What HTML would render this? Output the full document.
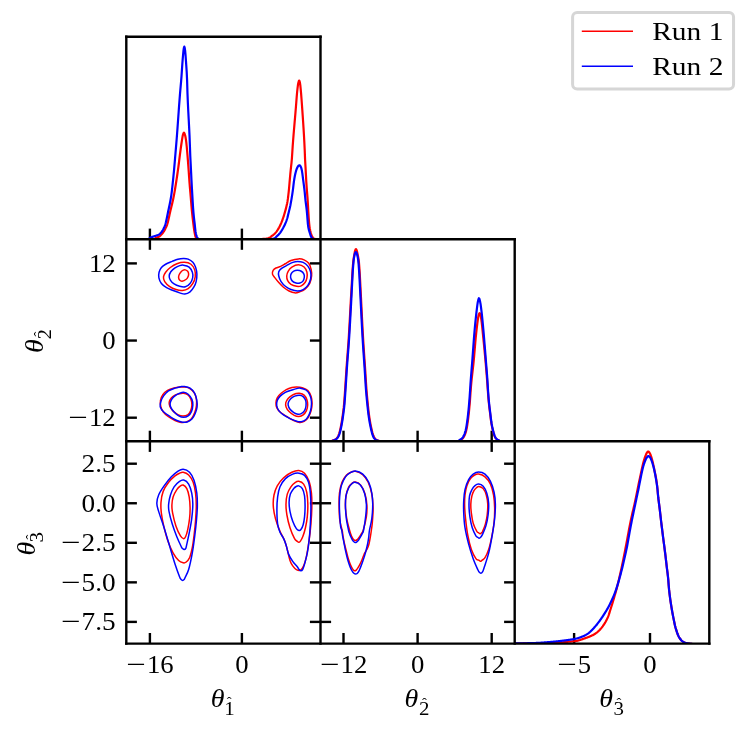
<!DOCTYPE html>
<html lang="en"><head><meta charset="utf-8"><title>Triangle plot: Run 1 vs Run 2</title>
<style>html,body{margin:0;padding:0;background:#fff}svg{display:block}text{font-family:"Liberation Serif","DejaVu Serif",serif;fill:#000}</style></head><body>
<svg width="746" height="742" viewBox="0 0 746 742">
<rect width="746" height="742" fill="#fff"/>
<defs>
<clipPath id="c00"><rect x="126.3" y="36.8" width="194.2" height="202.4"/></clipPath>
<clipPath id="c10"><rect x="126.3" y="239.2" width="194.2" height="202.1"/></clipPath>
<clipPath id="c11"><rect x="320.5" y="239.2" width="194.2" height="202.1"/></clipPath>
<clipPath id="c20"><rect x="126.3" y="441.3" width="194.2" height="202.3"/></clipPath>
<clipPath id="c21"><rect x="320.5" y="441.3" width="194.2" height="202.3"/></clipPath>
<clipPath id="c22"><rect x="514.7" y="441.3" width="194.6" height="202.3"/></clipPath>
</defs>
<g id="ticks" stroke="#000" stroke-width="2.4" stroke-linecap="butt">
<line x1="149.9" y1="239.2" x2="149.9" y2="228.6"/>
<line x1="241.9" y1="239.2" x2="241.9" y2="228.6"/>
<line x1="149.9" y1="441.3" x2="149.9" y2="430.7"/>
<line x1="149.9" y1="239.2" x2="149.9" y2="249.8"/>
<line x1="241.9" y1="441.3" x2="241.9" y2="430.7"/>
<line x1="241.9" y1="239.2" x2="241.9" y2="249.8"/>
<line x1="126.3" y1="263.4" x2="136.9" y2="263.4"/>
<line x1="320.5" y1="263.4" x2="309.9" y2="263.4"/>
<line x1="126.3" y1="340.55" x2="136.9" y2="340.55"/>
<line x1="320.5" y1="340.55" x2="309.9" y2="340.55"/>
<line x1="126.3" y1="417.7" x2="136.9" y2="417.7"/>
<line x1="320.5" y1="417.7" x2="309.9" y2="417.7"/>
<line x1="343.5" y1="441.3" x2="343.5" y2="430.7"/>
<line x1="417.6" y1="441.3" x2="417.6" y2="430.7"/>
<line x1="491.7" y1="441.3" x2="491.7" y2="430.7"/>
<line x1="149.9" y1="643.6" x2="149.9" y2="633"/>
<line x1="149.9" y1="441.3" x2="149.9" y2="451.9"/>
<line x1="241.9" y1="643.6" x2="241.9" y2="633"/>
<line x1="241.9" y1="441.3" x2="241.9" y2="451.9"/>
<line x1="126.3" y1="463.7" x2="136.9" y2="463.7"/>
<line x1="320.5" y1="463.7" x2="309.9" y2="463.7"/>
<line x1="126.3" y1="503.25" x2="136.9" y2="503.25"/>
<line x1="320.5" y1="503.25" x2="309.9" y2="503.25"/>
<line x1="126.3" y1="542.8" x2="136.9" y2="542.8"/>
<line x1="320.5" y1="542.8" x2="309.9" y2="542.8"/>
<line x1="126.3" y1="582.35" x2="136.9" y2="582.35"/>
<line x1="320.5" y1="582.35" x2="309.9" y2="582.35"/>
<line x1="126.3" y1="621.9" x2="136.9" y2="621.9"/>
<line x1="320.5" y1="621.9" x2="309.9" y2="621.9"/>
<line x1="343.5" y1="643.6" x2="343.5" y2="633"/>
<line x1="343.5" y1="441.3" x2="343.5" y2="451.9"/>
<line x1="417.6" y1="643.6" x2="417.6" y2="633"/>
<line x1="417.6" y1="441.3" x2="417.6" y2="451.9"/>
<line x1="491.7" y1="643.6" x2="491.7" y2="633"/>
<line x1="491.7" y1="441.3" x2="491.7" y2="451.9"/>
<line x1="320.5" y1="463.7" x2="331.1" y2="463.7"/>
<line x1="514.7" y1="463.7" x2="504.1" y2="463.7"/>
<line x1="320.5" y1="503.25" x2="331.1" y2="503.25"/>
<line x1="514.7" y1="503.25" x2="504.1" y2="503.25"/>
<line x1="320.5" y1="542.8" x2="331.1" y2="542.8"/>
<line x1="514.7" y1="542.8" x2="504.1" y2="542.8"/>
<line x1="320.5" y1="582.35" x2="331.1" y2="582.35"/>
<line x1="514.7" y1="582.35" x2="504.1" y2="582.35"/>
<line x1="320.5" y1="621.9" x2="331.1" y2="621.9"/>
<line x1="514.7" y1="621.9" x2="504.1" y2="621.9"/>
<line x1="574.1" y1="643.6" x2="574.1" y2="633"/>
<line x1="650" y1="643.6" x2="650" y2="633"/>
</g>
<g id="curves">
<path d="M126.3 239.7 L126.7 239.7 L127.1 239.7 L127.5 239.7 L127.9 239.7 L128.3 239.7 L128.7 239.7 L129.1 239.7 L129.5 239.7 L129.9 239.7 L130.3 239.7 L130.7 239.7 L131.1 239.7 L131.5 239.7 L131.9 239.7 L132.3 239.7 L132.7 239.7 L133.1 239.7 L133.5 239.7 L133.9 239.7 L134.3 239.7 L134.7 239.7 L135.1 239.7 L135.5 239.7 L135.9 239.7 L136.3 239.7 L136.7 239.7 L137.1 239.7 L137.5 239.7 L137.9 239.7 L138.3 239.7 L138.7 239.7 L139.1 239.7 L139.5 239.7 L139.9 239.7 L140.3 239.7 L140.7 239.7 L141.1 239.7 L141.5 239.7 L141.9 239.7 L142.3 239.7 L142.7 239.7 L143.1 239.7 L143.5 239.7 L143.9 239.7 L144.3 239.7 L144.7 239.7 L145.1 239.7 L145.5 239.7 L145.9 239.7 L146.3 239.7 L146.7 239.7 L147.1 239.7 L147.5 239.7 L147.9 239.7 L148.3 239.7 L148.7 239.7 L149.1 239.7 L149.5 239.7 L149.9 239.7 L150.3 239.7 L150.7 239.7 L151.1 239.7 L151.5 239.7 L151.9 239.7 L152.3 239.7 L152.7 239.7 L153.1 239.7 L153.5 239.7 L153.9 239.58 L154.3 239.2 L154.7 238.78 L155.1 238.49 L155.5 238.22 L155.9 237.97 L156.3 237.75 L156.7 237.55 L157.1 237.38 L157.5 237.25 L157.9 237.13 L158.3 237.01 L158.7 236.85 L159.1 236.63 L159.5 236.33 L159.9 235.98 L160.3 235.59 L160.7 235.2 L161.1 234.8 L161.5 234.38 L161.9 233.94 L162.3 233.47 L162.7 232.99 L163.1 232.48 L163.5 231.95 L163.9 231.38 L164.3 230.75 L164.7 230.01 L165.1 229.17 L165.5 228.31 L165.9 227.49 L166.3 226.69 L166.7 225.81 L167.1 224.77 L167.5 223.48 L167.9 221.99 L168.3 220.34 L168.7 218.56 L169.1 216.72 L169.5 214.85 L169.9 213.01 L170.3 211.23 L170.7 209.54 L171.1 207.89 L171.5 206.27 L171.9 204.63 L172.3 202.97 L172.7 201.26 L173.1 199.47 L173.5 197.59 L173.9 195.58 L174.3 193.41 L174.7 191.12 L175.1 188.73 L175.5 186.26 L175.9 183.76 L176.3 181.23 L176.7 178.65 L177.1 175.99 L177.5 173.26 L177.9 170.46 L178.3 167.56 L178.7 164.49 L179.1 161.29 L179.5 158.07 L179.9 154.95 L180.3 151.95 L180.7 148.96 L181.1 146.02 L181.5 143.22 L181.9 140.61 L182.3 138.14 L182.7 135.83 L183.1 134.3 L183.5 133.19 L183.9 132.7 L184.3 133.11 L184.7 134.05 L185.1 135.24 L185.5 137.03 L185.9 139.36 L186.3 142.31 L186.7 146.25 L187.1 150.75 L187.5 155.36 L187.9 160.31 L188.3 165.6 L188.7 171.09 L189.1 176.94 L189.5 182.5 L189.9 187.4 L190.3 191.99 L190.7 196.6 L191.1 201.47 L191.5 206.36 L191.9 210.8 L192.3 214.71 L192.7 218.32 L193.1 221.7 L193.5 224.9 L193.9 228.02 L194.3 230.85 L194.7 233.04 L195.1 235.01 L195.5 236.62 L195.9 237.6 L196.3 238.15 L196.7 238.63 L197.1 239.03 L197.5 239.35 L197.9 239.57 L198.3 239.69 L198.7 239.7 L199.1 239.7 L199.5 239.7 L199.9 239.7 L200.3 239.7 L200.7 239.7 L201.1 239.7 L201.5 239.7 L201.9 239.7 L202.3 239.7 L202.7 239.7 L203.1 239.7 L203.5 239.7 L203.9 239.7 L204.3 239.7 L204.7 239.7 L205.1 239.7 L205.5 239.7 L205.9 239.7 L206.3 239.7 L206.7 239.7 L207.1 239.7 L207.5 239.7 L207.9 239.7 L208.3 239.7 L208.7 239.7 L209.1 239.7 L209.5 239.7 L209.9 239.7 L210.3 239.7 L210.7 239.7 L211.1 239.7 L211.5 239.7 L211.9 239.7 L212.3 239.7 L212.7 239.7 L213.1 239.7 L213.5 239.7 L213.9 239.7 L214.3 239.7 L214.7 239.7 L215.1 239.7 L215.5 239.7 L215.9 239.7 L216.3 239.7 L216.7 239.7 L217.1 239.7 L217.5 239.7 L217.9 239.7 L218.3 239.7 L218.7 239.7 L219.1 239.7 L219.5 239.7 L219.9 239.7 L220.3 239.7 L220.7 239.7 L221.1 239.7 L221.5 239.7 L221.9 239.7 L222.3 239.7 L222.7 239.7 L223.1 239.7 L223.5 239.7 L223.9 239.7 L224.3 239.7 L224.7 239.7 L225.1 239.7 L225.5 239.7 L225.9 239.7 L226.3 239.7 L226.7 239.7 L227.1 239.7 L227.5 239.7 L227.9 239.7 L228.3 239.7 L228.7 239.7 L229.1 239.7 L229.5 239.7 L229.9 239.7 L230.3 239.7 L230.7 239.7 L231.1 239.7 L231.5 239.7 L231.9 239.7 L232.3 239.7 L232.7 239.7 L233.1 239.7 L233.5 239.7 L233.9 239.7 L234.3 239.7 L234.7 239.7 L235.1 239.7 L235.5 239.7 L235.9 239.7 L236.3 239.7 L236.7 239.7 L237.1 239.7 L237.5 239.7 L237.9 239.7 L238.3 239.7 L238.7 239.7 L239.1 239.7 L239.5 239.7 L239.9 239.7 L240.3 239.7 L240.7 239.7 L241.1 239.7 L241.5 239.7 L241.9 239.7 L242.3 239.7 L242.7 239.7 L243.1 239.7 L243.5 239.7 L243.9 239.7 L244.3 239.7 L244.7 239.7 L245.1 239.7 L245.5 239.7 L245.9 239.7 L246.3 239.7 L246.7 239.7 L247.1 239.7 L247.5 239.7 L247.9 239.7 L248.3 239.7 L248.7 239.7 L249.1 239.7 L249.5 239.7 L249.9 239.7 L250.3 239.7 L250.7 239.69 L251.1 239.66 L251.5 239.64 L251.9 239.6 L252.3 239.56 L252.7 239.52 L253.1 239.48 L253.5 239.43 L253.9 239.38 L254.3 239.33 L254.7 239.28 L255.1 239.24 L255.5 239.2 L255.9 239.16 L256.3 239.13 L256.7 239.11 L257.1 239.1 L257.5 239.09 L257.9 239.08 L258.3 239.07 L258.7 239.06 L259.1 239.06 L259.5 239.05 L259.9 239.04 L260.3 239.04 L260.7 239.03 L261.1 239.02 L261.5 239.01 L261.9 239 L262.3 238.99 L262.7 238.97 L263.1 238.96 L263.5 238.94 L263.9 238.91 L264.3 238.89 L264.7 238.86 L265.1 238.83 L265.5 238.79 L265.9 238.75 L266.3 238.7 L266.7 238.65 L267.1 238.6 L267.5 238.51 L267.9 238.38 L268.3 238.21 L268.7 238.02 L269.1 237.81 L269.5 237.6 L269.9 237.37 L270.3 237.11 L270.7 236.83 L271.1 236.53 L271.5 236.23 L271.9 235.92 L272.3 235.62 L272.7 235.32 L273.1 235.02 L273.5 234.7 L273.9 234.37 L274.3 234.02 L274.7 233.65 L275.1 233.25 L275.5 232.82 L275.9 232.35 L276.3 231.84 L276.7 231.29 L277.1 230.71 L277.5 230.11 L277.9 229.48 L278.3 228.83 L278.7 228.16 L279.1 227.46 L279.5 226.71 L279.9 225.92 L280.3 225.09 L280.7 224.23 L281.1 223.33 L281.5 222.38 L281.9 221.36 L282.3 220.28 L282.7 219.15 L283.1 217.99 L283.5 216.8 L283.9 215.56 L284.3 214.27 L284.7 212.94 L285.1 211.55 L285.5 210.12 L285.9 208.63 L286.3 207.04 L286.7 205.33 L287.1 203.51 L287.5 201.39 L287.9 198.69 L288.3 195.4 L288.7 191.93 L289.1 187.76 L289.5 183.12 L289.9 178.55 L290.3 174.12 L290.7 170.03 L291.1 166.46 L291.5 162.84 L291.9 158.5 L292.3 152.31 L292.7 146.1 L293.1 140.72 L293.5 135.63 L293.9 130.77 L294.3 126.05 L294.7 121.42 L295.1 116.79 L295.5 112.1 L295.9 107.26 L296.3 102.08 L296.7 96.89 L297.1 92.25 L297.5 88.52 L297.9 85.28 L298.3 83 L298.7 81.46 L299.1 80.55 L299.5 80.96 L299.9 82.54 L300.3 85.11 L300.7 89.23 L301.1 93.68 L301.5 98.74 L301.9 104.23 L302.3 109.93 L302.7 115.65 L303.1 121.51 L303.5 127.67 L303.9 134.3 L304.3 141.55 L304.7 149.8 L305.1 160 L305.5 166.74 L305.9 174.17 L306.3 181.84 L306.7 187.61 L307.1 192.82 L307.5 197.6 L307.9 204.06 L308.3 211.38 L308.7 217.51 L309.1 222.83 L309.5 226.6 L309.9 229.05 L310.3 230.98 L310.7 232.52 L311.1 233.81 L311.5 234.97 L311.9 235.99 L312.3 236.82 L312.7 237.4 L313.1 237.8 L313.5 238.14 L313.9 238.41 L314.3 238.65 L314.7 238.86 L315.1 239.05 L315.5 239.24 L315.9 239.42 L316.3 239.58 L316.7 239.68 L317.1 239.7 L317.5 239.7 L317.9 239.7 L318.3 239.7 L318.7 239.7 L319.1 239.7 L319.5 239.7 L319.9 239.7 L320.3 239.7" fill="none" stroke="#ff0000" stroke-width="2.2" stroke-linejoin="round" clip-path="url(#c00)"/>
<path d="M126.3 239.7 L126.7 239.7 L127.1 239.7 L127.5 239.7 L127.9 239.7 L128.3 239.7 L128.7 239.7 L129.1 239.7 L129.5 239.7 L129.9 239.7 L130.3 239.7 L130.7 239.7 L131.1 239.7 L131.5 239.7 L131.9 239.7 L132.3 239.7 L132.7 239.7 L133.1 239.7 L133.5 239.7 L133.9 239.7 L134.3 239.7 L134.7 239.7 L135.1 239.7 L135.5 239.7 L135.9 239.7 L136.3 239.7 L136.7 239.7 L137.1 239.7 L137.5 239.7 L137.9 239.7 L138.3 239.7 L138.7 239.7 L139.1 239.7 L139.5 239.7 L139.9 239.7 L140.3 239.7 L140.7 239.7 L141.1 239.7 L141.5 239.7 L141.9 239.7 L142.3 239.7 L142.7 239.7 L143.1 239.7 L143.5 239.7 L143.9 239.7 L144.3 239.7 L144.7 239.7 L145.1 239.7 L145.5 239.7 L145.9 239.7 L146.3 239.7 L146.7 239.7 L147.1 239.7 L147.5 239.7 L147.9 239.7 L148.3 239.7 L148.7 239.46 L149.1 238.83 L149.5 238.36 L149.9 237.95 L150.3 237.68 L150.7 237.48 L151.1 237.31 L151.5 237.15 L151.9 237 L152.3 236.85 L152.7 236.72 L153.1 236.58 L153.5 236.45 L153.9 236.32 L154.3 236.19 L154.7 236.07 L155.1 235.95 L155.5 235.83 L155.9 235.7 L156.3 235.57 L156.7 235.44 L157.1 235.29 L157.5 235.16 L157.9 235.01 L158.3 234.84 L158.7 234.65 L159.1 234.42 L159.5 234.13 L159.9 233.79 L160.3 233.42 L160.7 233.01 L161.1 232.58 L161.5 232.07 L161.9 231.51 L162.3 230.91 L162.7 230.26 L163.1 229.56 L163.5 228.8 L163.9 227.99 L164.3 227.15 L164.7 226.21 L165.1 225.1 L165.5 223.76 L165.9 222.2 L166.3 220.47 L166.7 218.62 L167.1 216.68 L167.5 214.71 L167.9 212.73 L168.3 210.8 L168.7 208.94 L169.1 207.1 L169.5 205.24 L169.9 203.31 L170.3 201.26 L170.7 199.04 L171.1 196.6 L171.5 193.78 L171.9 190.56 L172.3 187.06 L172.7 183.42 L173.1 179.68 L173.5 175.71 L173.9 171.53 L174.3 167.2 L174.7 162.57 L175.1 157.78 L175.5 153.03 L175.9 148.37 L176.3 143.67 L176.7 138.74 L177.1 133.53 L177.5 128.1 L177.9 122.53 L178.3 116.89 L178.7 111.25 L179.1 105.7 L179.5 100.31 L179.9 95.15 L180.3 90.36 L180.7 85.91 L181.1 81.39 L181.5 76.36 L181.9 70.4 L182.3 64.33 L182.7 59.11 L183.1 54.55 L183.5 50.34 L183.9 47.75 L184.3 46.6 L184.7 47.75 L185.1 50.31 L185.5 54.66 L185.9 60.14 L186.3 65.81 L186.7 71.86 L187.1 80.39 L187.5 93.9 L187.9 103.57 L188.3 111.78 L188.7 119.28 L189.1 126.85 L189.5 135.25 L189.9 145.65 L190.3 156.48 L190.7 164.41 L191.1 172.41 L191.5 180.57 L191.9 188 L192.3 194.92 L192.7 201.7 L193.1 208.13 L193.5 213.08 L193.9 217.05 L194.3 220.56 L194.7 224 L195.1 227.86 L195.5 231.41 L195.9 233.44 L196.3 235.07 L196.7 236.36 L197.1 237.29 L197.5 237.86 L197.9 238.34 L198.3 238.77 L198.7 239.14 L199.1 239.42 L199.5 239.61 L199.9 239.7 L200.3 239.7 L200.7 239.7 L201.1 239.7 L201.5 239.7 L201.9 239.7 L202.3 239.7 L202.7 239.7 L203.1 239.7 L203.5 239.7 L203.9 239.7 L204.3 239.7 L204.7 239.7 L205.1 239.7 L205.5 239.7 L205.9 239.7 L206.3 239.7 L206.7 239.7 L207.1 239.7 L207.5 239.7 L207.9 239.7 L208.3 239.7 L208.7 239.7 L209.1 239.7 L209.5 239.7 L209.9 239.7 L210.3 239.7 L210.7 239.7 L211.1 239.7 L211.5 239.7 L211.9 239.7 L212.3 239.7 L212.7 239.7 L213.1 239.7 L213.5 239.7 L213.9 239.7 L214.3 239.7 L214.7 239.7 L215.1 239.7 L215.5 239.7 L215.9 239.7 L216.3 239.7 L216.7 239.7 L217.1 239.7 L217.5 239.7 L217.9 239.7 L218.3 239.7 L218.7 239.7 L219.1 239.7 L219.5 239.7 L219.9 239.7 L220.3 239.7 L220.7 239.7 L221.1 239.7 L221.5 239.7 L221.9 239.7 L222.3 239.7 L222.7 239.7 L223.1 239.7 L223.5 239.7 L223.9 239.7 L224.3 239.7 L224.7 239.7 L225.1 239.7 L225.5 239.7 L225.9 239.7 L226.3 239.7 L226.7 239.7 L227.1 239.7 L227.5 239.7 L227.9 239.7 L228.3 239.7 L228.7 239.7 L229.1 239.7 L229.5 239.7 L229.9 239.7 L230.3 239.7 L230.7 239.7 L231.1 239.7 L231.5 239.7 L231.9 239.7 L232.3 239.7 L232.7 239.7 L233.1 239.7 L233.5 239.7 L233.9 239.7 L234.3 239.7 L234.7 239.7 L235.1 239.7 L235.5 239.7 L235.9 239.7 L236.3 239.7 L236.7 239.7 L237.1 239.7 L237.5 239.7 L237.9 239.7 L238.3 239.7 L238.7 239.7 L239.1 239.7 L239.5 239.7 L239.9 239.7 L240.3 239.7 L240.7 239.7 L241.1 239.7 L241.5 239.7 L241.9 239.7 L242.3 239.7 L242.7 239.7 L243.1 239.7 L243.5 239.7 L243.9 239.7 L244.3 239.7 L244.7 239.7 L245.1 239.7 L245.5 239.7 L245.9 239.7 L246.3 239.7 L246.7 239.7 L247.1 239.7 L247.5 239.7 L247.9 239.7 L248.3 239.7 L248.7 239.7 L249.1 239.7 L249.5 239.7 L249.9 239.7 L250.3 239.7 L250.7 239.7 L251.1 239.7 L251.5 239.7 L251.9 239.7 L252.3 239.7 L252.7 239.7 L253.1 239.7 L253.5 239.7 L253.9 239.7 L254.3 239.7 L254.7 239.7 L255.1 239.7 L255.5 239.7 L255.9 239.7 L256.3 239.7 L256.7 239.7 L257.1 239.7 L257.5 239.7 L257.9 239.7 L258.3 239.7 L258.7 239.7 L259.1 239.7 L259.5 239.7 L259.9 239.7 L260.3 239.7 L260.7 239.7 L261.1 239.7 L261.5 239.7 L261.9 239.7 L262.3 239.7 L262.7 239.68 L263.1 239.66 L263.5 239.62 L263.9 239.58 L264.3 239.54 L264.7 239.49 L265.1 239.44 L265.5 239.38 L265.9 239.33 L266.3 239.27 L266.7 239.22 L267.1 239.18 L267.5 239.14 L267.9 239.11 L268.3 239.08 L268.7 239.06 L269.1 239.04 L269.5 239.03 L269.9 239.01 L270.3 239 L270.7 238.98 L271.1 238.96 L271.5 238.94 L271.9 238.91 L272.3 238.87 L272.7 238.81 L273.1 238.73 L273.5 238.63 L273.9 238.51 L274.3 238.37 L274.7 238.21 L275.1 237.94 L275.5 237.59 L275.9 237.19 L276.3 236.79 L276.7 236.42 L277.1 236.04 L277.5 235.67 L277.9 235.28 L278.3 234.88 L278.7 234.47 L279.1 234.03 L279.5 233.57 L279.9 233.09 L280.3 232.56 L280.7 232 L281.1 231.4 L281.5 230.77 L281.9 230.12 L282.3 229.44 L282.7 228.75 L283.1 228.05 L283.5 227.31 L283.9 226.55 L284.3 225.75 L284.7 224.91 L285.1 224.03 L285.5 223.1 L285.9 222.12 L286.3 221.07 L286.7 219.94 L287.1 218.72 L287.5 217.36 L287.9 215.8 L288.3 214.12 L288.7 212.43 L289.1 210.79 L289.5 209.21 L289.9 207.55 L290.3 205.72 L290.7 203.62 L291.1 201.37 L291.5 199.07 L291.9 196.65 L292.3 194.12 L292.7 191.43 L293.1 188.42 L293.5 184.9 L293.9 181.56 L294.3 179.01 L294.7 176.78 L295.1 174.76 L295.5 172.96 L295.9 171.4 L296.3 170.1 L296.7 168.99 L297.1 168 L297.5 167.17 L297.9 166.53 L298.3 166.04 L298.7 165.6 L299.1 165.31 L299.5 165.27 L299.9 165.53 L300.3 165.99 L300.7 166.56 L301.1 167.51 L301.5 168.88 L301.9 170.57 L302.3 173.07 L302.7 176.2 L303.1 179.44 L303.5 182.42 L303.9 185.41 L304.3 188.59 L304.7 192.2 L305.1 196.42 L305.5 200.4 L305.9 203.6 L306.3 206.52 L306.7 209.8 L307.1 214.26 L307.5 219.46 L307.9 224.16 L308.3 227.17 L308.7 229.11 L309.1 230.64 L309.5 231.96 L309.9 233.25 L310.3 234.55 L310.7 235.74 L311.1 236.73 L311.5 237.4 L311.9 237.83 L312.3 238.18 L312.7 238.47 L313.1 238.7 L313.5 238.9 L313.9 239.08 L314.3 239.26 L314.7 239.42 L315.1 239.56 L315.5 239.65 L315.9 239.7 L316.3 239.7 L316.7 239.7 L317.1 239.7 L317.5 239.7 L317.9 239.7 L318.3 239.7 L318.7 239.7 L319.1 239.7 L319.5 239.7 L319.9 239.7 L320.3 239.7" fill="none" stroke="#0000ff" stroke-width="2.2" stroke-linejoin="round" clip-path="url(#c00)"/>
<path d="M320.5 441.8 L320.9 441.8 L321.3 441.8 L321.7 441.8 L322.1 441.8 L322.5 441.8 L322.9 441.8 L323.3 441.8 L323.7 441.8 L324.1 441.8 L324.5 441.8 L324.9 441.8 L325.3 441.8 L325.7 441.8 L326.1 441.8 L326.5 441.8 L326.9 441.8 L327.3 441.8 L327.7 441.8 L328.1 441.78 L328.5 441.74 L328.9 441.68 L329.3 441.61 L329.7 441.52 L330.1 441.42 L330.5 441.31 L330.9 441.19 L331.3 441.06 L331.7 440.92 L332.1 440.78 L332.5 440.63 L332.9 440.49 L333.3 440.34 L333.7 440.18 L334.1 440.01 L334.5 439.82 L334.9 439.61 L335.3 439.37 L335.7 439.11 L336.1 438.81 L336.5 438.48 L336.9 438.1 L337.3 437.6 L337.7 436.99 L338.1 436.27 L338.5 435.44 L338.9 434.5 L339.3 433.26 L339.7 431.79 L340.1 430.2 L340.5 428.47 L340.9 426.55 L341.3 424.45 L341.7 422.2 L342.1 419.72 L342.5 416.99 L342.9 414.1 L343.3 411.18 L343.7 407.96 L344.1 403.9 L344.5 398.67 L344.9 392.99 L345.3 386.96 L345.7 380.66 L346.1 374.34 L346.5 368.3 L346.9 362.75 L347.3 357.54 L347.7 352.42 L348.1 347.16 L348.5 341.5 L348.9 335.25 L349.3 328.43 L349.7 321.23 L350.1 313.83 L350.5 306.41 L350.9 299.14 L351.3 292.22 L351.7 285.62 L352.1 278.19 L352.5 271 L352.9 265.48 L353.3 261.06 L353.7 258.11 L354.1 255.89 L354.5 253.59 L354.9 251.36 L355.3 250.13 L355.7 249.28 L356.1 249.17 L356.5 249.89 L356.9 251 L357.3 252.68 L357.7 254.8 L358.1 256.71 L358.5 258.84 L358.9 261.96 L359.3 266.74 L359.7 272.56 L360.1 279.98 L360.5 287.86 L360.9 295.87 L361.3 303.86 L361.7 311.88 L362.1 319.81 L362.5 327.5 L362.9 334.83 L363.3 341.65 L363.7 347.91 L364.1 353.78 L364.5 359.51 L364.9 365.31 L365.3 371.42 L365.7 377.92 L366.1 384.3 L366.5 390 L366.9 394.75 L367.3 399.07 L367.7 403.18 L368.1 407.05 L368.5 410.77 L368.9 414.1 L369.3 416.97 L369.7 419.56 L370.1 421.92 L370.5 424.1 L370.9 426.13 L371.3 428.02 L371.7 429.78 L372.1 431.45 L372.5 433.03 L372.9 434.42 L373.3 435.53 L373.7 436.51 L374.1 437.37 L374.5 438.04 L374.9 438.52 L375.3 438.92 L375.7 439.28 L376.1 439.59 L376.5 439.85 L376.9 440.07 L377.3 440.26 L377.7 440.42 L378.1 440.57 L378.5 440.72 L378.9 440.86 L379.3 441 L379.7 441.13 L380.1 441.25 L380.5 441.36 L380.9 441.47 L381.3 441.56 L381.7 441.63 L382.1 441.7 L382.5 441.75 L382.9 441.78 L383.3 441.8 L383.7 441.8 L384.1 441.8 L384.5 441.8 L384.9 441.8 L385.3 441.8 L385.7 441.8 L386.1 441.8 L386.5 441.8 L386.9 441.8 L387.3 441.8 L387.7 441.8 L388.1 441.8 L388.5 441.8 L388.9 441.8 L389.3 441.8 L389.7 441.8 L390.1 441.8 L390.5 441.8 L390.9 441.8 L391.3 441.8 L391.7 441.8 L392.1 441.8 L392.5 441.8 L392.9 441.8 L393.3 441.8 L393.7 441.8 L394.1 441.8 L394.5 441.8 L394.9 441.8 L395.3 441.8 L395.7 441.8 L396.1 441.8 L396.5 441.8 L396.9 441.8 L397.3 441.8 L397.7 441.8 L398.1 441.8 L398.5 441.8 L398.9 441.8 L399.3 441.8 L399.7 441.8 L400.1 441.8 L400.5 441.8 L400.9 441.8 L401.3 441.8 L401.7 441.8 L402.1 441.8 L402.5 441.8 L402.9 441.8 L403.3 441.8 L403.7 441.8 L404.1 441.8 L404.5 441.8 L404.9 441.8 L405.3 441.8 L405.7 441.8 L406.1 441.8 L406.5 441.8 L406.9 441.8 L407.3 441.8 L407.7 441.8 L408.1 441.8 L408.5 441.8 L408.9 441.8 L409.3 441.8 L409.7 441.8 L410.1 441.8 L410.5 441.8 L410.9 441.8 L411.3 441.8 L411.7 441.8 L412.1 441.8 L412.5 441.8 L412.9 441.8 L413.3 441.8 L413.7 441.8 L414.1 441.8 L414.5 441.8 L414.9 441.8 L415.3 441.8 L415.7 441.8 L416.1 441.8 L416.5 441.8 L416.9 441.8 L417.3 441.8 L417.7 441.8 L418.1 441.8 L418.5 441.8 L418.9 441.8 L419.3 441.8 L419.7 441.8 L420.1 441.8 L420.5 441.8 L420.9 441.8 L421.3 441.8 L421.7 441.8 L422.1 441.8 L422.5 441.8 L422.9 441.8 L423.3 441.8 L423.7 441.8 L424.1 441.8 L424.5 441.8 L424.9 441.8 L425.3 441.8 L425.7 441.8 L426.1 441.8 L426.5 441.8 L426.9 441.8 L427.3 441.8 L427.7 441.8 L428.1 441.8 L428.5 441.8 L428.9 441.8 L429.3 441.8 L429.7 441.8 L430.1 441.8 L430.5 441.8 L430.9 441.8 L431.3 441.8 L431.7 441.8 L432.1 441.8 L432.5 441.8 L432.9 441.8 L433.3 441.8 L433.7 441.8 L434.1 441.8 L434.5 441.8 L434.9 441.8 L435.3 441.8 L435.7 441.8 L436.1 441.8 L436.5 441.8 L436.9 441.8 L437.3 441.8 L437.7 441.8 L438.1 441.8 L438.5 441.8 L438.9 441.8 L439.3 441.8 L439.7 441.8 L440.1 441.8 L440.5 441.8 L440.9 441.8 L441.3 441.8 L441.7 441.8 L442.1 441.8 L442.5 441.8 L442.9 441.8 L443.3 441.8 L443.7 441.8 L444.1 441.8 L444.5 441.8 L444.9 441.8 L445.3 441.8 L445.7 441.8 L446.1 441.8 L446.5 441.8 L446.9 441.8 L447.3 441.8 L447.7 441.8 L448.1 441.8 L448.5 441.8 L448.9 441.8 L449.3 441.8 L449.7 441.8 L450.1 441.8 L450.5 441.8 L450.9 441.8 L451.3 441.8 L451.7 441.8 L452.1 441.8 L452.5 441.8 L452.9 441.8 L453.3 441.8 L453.7 441.8 L454.1 441.8 L454.5 441.8 L454.9 441.8 L455.3 441.8 L455.7 441.8 L456.1 441.8 L456.5 441.8 L456.9 441.8 L457.3 441.8 L457.7 441.8 L458.1 441.79 L458.5 441.63 L458.9 441.33 L459.3 440.94 L459.7 440.55 L460.1 440.23 L460.5 439.96 L460.9 439.71 L461.3 439.47 L461.7 439.21 L462.1 438.92 L462.5 438.59 L462.9 438.19 L463.3 437.68 L463.7 437.04 L464.1 436.3 L464.5 435.48 L464.9 434.59 L465.3 433.56 L465.7 432.36 L466.1 430.97 L466.5 429.34 L466.9 427.26 L467.3 424.84 L467.7 422.2 L468.1 419.24 L468.5 415.88 L468.9 412.26 L469.3 408.26 L469.7 403.79 L470.1 398.72 L470.5 392.86 L470.9 387.46 L471.3 382.9 L471.7 378.92 L472.1 375.31 L472.5 371.88 L472.9 368.47 L473.3 364.89 L473.7 360.98 L474.1 356.61 L474.5 351.93 L474.9 347.14 L475.3 342.44 L475.7 338.01 L476.1 334.05 L476.5 330.35 L476.9 326.83 L477.3 323.58 L477.7 320.67 L478.1 318.05 L478.5 315.79 L478.9 314.36 L479.3 313.31 L479.7 313.04 L480.1 313.77 L480.5 315 L480.9 316.8 L481.3 319.32 L481.7 322.29 L482.1 325.92 L482.5 329.93 L482.9 334.01 L483.3 337.95 L483.7 341.93 L484.1 345.96 L484.5 350.08 L484.9 354.3 L485.3 358.65 L485.7 363.14 L486.1 367.8 L486.5 372.63 L486.9 377.66 L487.3 382.9 L487.7 388.59 L488.1 394.19 L488.5 399.18 L488.9 403.32 L489.3 406.98 L489.7 410.21 L490.1 413.3 L490.5 416.64 L490.9 420.03 L491.3 422.82 L491.7 425.11 L492.1 427.13 L492.5 428.94 L492.9 430.61 L493.3 432.16 L493.7 433.57 L494.1 434.78 L494.5 435.81 L494.9 436.75 L495.3 437.56 L495.7 438.18 L496.1 438.62 L496.5 438.99 L496.9 439.3 L497.3 439.58 L497.7 439.83 L498.1 440.06 L498.5 440.3 L498.9 440.55 L499.3 440.82 L499.7 441.09 L500.1 441.33 L500.5 441.54 L500.9 441.7 L501.3 441.79 L501.7 441.8 L502.1 441.8 L502.5 441.8 L502.9 441.8 L503.3 441.8 L503.7 441.8 L504.1 441.8 L504.5 441.8 L504.9 441.8 L505.3 441.8 L505.7 441.8 L506.1 441.8 L506.5 441.8 L506.9 441.8 L507.3 441.8 L507.7 441.8 L508.1 441.8 L508.5 441.8 L508.9 441.8 L509.3 441.8 L509.7 441.8 L510.1 441.8 L510.5 441.8 L510.9 441.8 L511.3 441.8 L511.7 441.8 L512.1 441.8 L512.5 441.8 L512.9 441.8 L513.3 441.8 L513.7 441.8 L514.1 441.8 L514.5 441.8" fill="none" stroke="#ff0000" stroke-width="2.2" stroke-linejoin="round" clip-path="url(#c11)"/>
<path d="M320.5 441.8 L320.9 441.8 L321.3 441.8 L321.7 441.8 L322.1 441.8 L322.5 441.8 L322.9 441.8 L323.3 441.8 L323.7 441.8 L324.1 441.8 L324.5 441.8 L324.9 441.8 L325.3 441.8 L325.7 441.8 L326.1 441.8 L326.5 441.8 L326.9 441.8 L327.3 441.8 L327.7 441.8 L328.1 441.8 L328.5 441.78 L328.9 441.75 L329.3 441.69 L329.7 441.62 L330.1 441.54 L330.5 441.43 L330.9 441.32 L331.3 441.2 L331.7 441.07 L332.1 440.93 L332.5 440.79 L332.9 440.64 L333.3 440.49 L333.7 440.34 L334.1 440.18 L334.5 440.01 L334.9 439.82 L335.3 439.61 L335.7 439.37 L336.1 439.11 L336.5 438.81 L336.9 438.48 L337.3 438.1 L337.7 437.6 L338.1 436.99 L338.5 436.27 L338.9 435.44 L339.3 434.5 L339.7 433.26 L340.1 431.79 L340.5 430.2 L340.9 428.47 L341.3 426.55 L341.7 424.45 L342.1 422.2 L342.5 419.72 L342.9 416.99 L343.3 414.1 L343.7 411.18 L344.1 407.96 L344.5 403.9 L344.9 398.67 L345.3 392.99 L345.7 386.96 L346.1 380.66 L346.5 374.34 L346.9 368.3 L347.3 362.75 L347.7 357.54 L348.1 352.42 L348.5 347.16 L348.9 341.5 L349.3 335.31 L349.7 328.7 L350.1 321.76 L350.5 314.56 L350.9 307.15 L351.3 299.61 L351.7 291.95 L352.1 283.9 L352.5 276.1 L352.9 269.55 L353.3 264.24 L353.7 260.2 L354.1 257.38 L354.5 255.24 L354.9 253.61 L355.3 252.63 L355.7 252.09 L356.1 252.09 L356.5 252.63 L356.9 253.63 L357.3 255.21 L357.7 257.07 L358.1 259.48 L358.5 263.02 L358.9 268.12 L359.3 274.27 L359.7 281.95 L360.1 289.89 L360.5 297.86 L360.9 305.87 L361.3 313.88 L361.7 321.76 L362.1 329.38 L362.5 336.59 L362.9 343.26 L363.3 349.4 L363.7 355.22 L364.1 360.94 L364.5 366.79 L364.9 373.03 L365.3 379.55 L365.7 385.81 L366.1 391.26 L366.5 395.84 L366.9 400.12 L367.3 404.17 L367.7 408 L368.1 411.65 L368.5 414.85 L368.9 417.64 L369.3 420.17 L369.7 422.48 L370.1 424.62 L370.5 426.61 L370.9 428.47 L371.3 430.2 L371.7 431.86 L372.1 433.4 L372.5 434.72 L372.9 435.78 L373.3 436.74 L373.7 437.55 L374.1 438.18 L374.5 438.63 L374.9 439.02 L375.3 439.36 L375.7 439.66 L376.1 439.91 L376.5 440.12 L376.9 440.3 L377.3 440.46 L377.7 440.61 L378.1 440.76 L378.5 440.9 L378.9 441.03 L379.3 441.16 L379.7 441.28 L380.1 441.39 L380.5 441.49 L380.9 441.58 L381.3 441.65 L381.7 441.71 L382.1 441.76 L382.5 441.79 L382.9 441.8 L383.3 441.8 L383.7 441.8 L384.1 441.8 L384.5 441.8 L384.9 441.8 L385.3 441.8 L385.7 441.8 L386.1 441.8 L386.5 441.8 L386.9 441.8 L387.3 441.8 L387.7 441.8 L388.1 441.8 L388.5 441.8 L388.9 441.8 L389.3 441.8 L389.7 441.8 L390.1 441.8 L390.5 441.8 L390.9 441.8 L391.3 441.8 L391.7 441.8 L392.1 441.8 L392.5 441.8 L392.9 441.8 L393.3 441.8 L393.7 441.8 L394.1 441.8 L394.5 441.8 L394.9 441.8 L395.3 441.8 L395.7 441.8 L396.1 441.8 L396.5 441.8 L396.9 441.8 L397.3 441.8 L397.7 441.8 L398.1 441.8 L398.5 441.8 L398.9 441.8 L399.3 441.8 L399.7 441.8 L400.1 441.8 L400.5 441.8 L400.9 441.8 L401.3 441.8 L401.7 441.8 L402.1 441.8 L402.5 441.8 L402.9 441.8 L403.3 441.8 L403.7 441.8 L404.1 441.8 L404.5 441.8 L404.9 441.8 L405.3 441.8 L405.7 441.8 L406.1 441.8 L406.5 441.8 L406.9 441.8 L407.3 441.8 L407.7 441.8 L408.1 441.8 L408.5 441.8 L408.9 441.8 L409.3 441.8 L409.7 441.8 L410.1 441.8 L410.5 441.8 L410.9 441.8 L411.3 441.8 L411.7 441.8 L412.1 441.8 L412.5 441.8 L412.9 441.8 L413.3 441.8 L413.7 441.8 L414.1 441.8 L414.5 441.8 L414.9 441.8 L415.3 441.8 L415.7 441.8 L416.1 441.8 L416.5 441.8 L416.9 441.8 L417.3 441.8 L417.7 441.8 L418.1 441.8 L418.5 441.8 L418.9 441.8 L419.3 441.8 L419.7 441.8 L420.1 441.8 L420.5 441.8 L420.9 441.8 L421.3 441.8 L421.7 441.8 L422.1 441.8 L422.5 441.8 L422.9 441.8 L423.3 441.8 L423.7 441.8 L424.1 441.8 L424.5 441.8 L424.9 441.8 L425.3 441.8 L425.7 441.8 L426.1 441.8 L426.5 441.8 L426.9 441.8 L427.3 441.8 L427.7 441.8 L428.1 441.8 L428.5 441.8 L428.9 441.8 L429.3 441.8 L429.7 441.8 L430.1 441.8 L430.5 441.8 L430.9 441.8 L431.3 441.8 L431.7 441.8 L432.1 441.8 L432.5 441.8 L432.9 441.8 L433.3 441.8 L433.7 441.8 L434.1 441.8 L434.5 441.8 L434.9 441.8 L435.3 441.8 L435.7 441.8 L436.1 441.8 L436.5 441.8 L436.9 441.8 L437.3 441.8 L437.7 441.8 L438.1 441.8 L438.5 441.8 L438.9 441.8 L439.3 441.8 L439.7 441.8 L440.1 441.8 L440.5 441.8 L440.9 441.8 L441.3 441.8 L441.7 441.8 L442.1 441.8 L442.5 441.8 L442.9 441.8 L443.3 441.8 L443.7 441.8 L444.1 441.8 L444.5 441.8 L444.9 441.8 L445.3 441.8 L445.7 441.8 L446.1 441.8 L446.5 441.8 L446.9 441.8 L447.3 441.8 L447.7 441.8 L448.1 441.8 L448.5 441.8 L448.9 441.8 L449.3 441.8 L449.7 441.8 L450.1 441.8 L450.5 441.8 L450.9 441.8 L451.3 441.8 L451.7 441.8 L452.1 441.8 L452.5 441.8 L452.9 441.8 L453.3 441.8 L453.7 441.8 L454.1 441.8 L454.5 441.8 L454.9 441.8 L455.3 441.8 L455.7 441.8 L456.1 441.8 L456.5 441.8 L456.9 441.8 L457.3 441.75 L457.7 441.56 L458.1 441.26 L458.5 440.92 L458.9 440.57 L459.3 440.27 L459.7 440.01 L460.1 439.77 L460.5 439.52 L460.9 439.27 L461.3 438.99 L461.7 438.67 L462.1 438.3 L462.5 437.84 L462.9 437.28 L463.3 436.62 L463.7 435.87 L464.1 435.05 L464.5 434.11 L464.9 432.99 L465.3 431.69 L465.7 430.2 L466.1 428.35 L466.5 426.09 L466.9 423.54 L467.3 420.78 L467.7 417.6 L468.1 414.1 L468.5 410.31 L468.9 406.1 L469.3 401.32 L469.7 395.97 L470.1 390 L470.5 383.64 L470.9 378.11 L471.3 373.06 L471.7 368.2 L472.1 363.27 L472.5 358.07 L472.9 352.65 L473.3 347.14 L473.7 341.7 L474.1 336.44 L474.5 331.5 L474.9 327.02 L475.3 322.9 L475.7 319.04 L476.1 315.41 L476.5 312 L476.9 308.6 L477.3 305.32 L477.7 302.6 L478.1 300.73 L478.5 299.14 L478.9 298.24 L479.3 298.57 L479.7 299.9 L480.1 301.6 L480.5 303.69 L480.9 306.42 L481.3 309.55 L481.7 312.84 L482.1 316.5 L482.5 320.55 L482.9 324.83 L483.3 329.2 L483.7 333.71 L484.1 338.4 L484.5 343.23 L484.9 348.16 L485.3 353.17 L485.7 358.21 L486.1 363.25 L486.5 368.16 L486.9 373.13 L487.3 378.47 L487.7 384.59 L488.1 391.51 L488.5 396.86 L488.9 401.32 L489.3 405.2 L489.7 408.64 L490.1 411.75 L490.5 414.92 L490.9 418.37 L491.3 421.54 L491.7 424 L492.1 426.15 L492.5 428.06 L492.9 429.79 L493.3 431.4 L493.7 432.89 L494.1 434.21 L494.5 435.31 L494.9 436.29 L495.3 437.17 L495.7 437.89 L496.1 438.41 L496.5 438.81 L496.9 439.15 L497.3 439.44 L497.7 439.7 L498.1 439.94 L498.5 440.18 L498.9 440.43 L499.3 440.71 L499.7 440.99 L500.1 441.27 L500.5 441.51 L500.9 441.69 L501.3 441.79 L501.7 441.8 L502.1 441.8 L502.5 441.8 L502.9 441.8 L503.3 441.8 L503.7 441.8 L504.1 441.8 L504.5 441.8 L504.9 441.8 L505.3 441.8 L505.7 441.8 L506.1 441.8 L506.5 441.8 L506.9 441.8 L507.3 441.8 L507.7 441.8 L508.1 441.8 L508.5 441.8 L508.9 441.8 L509.3 441.8 L509.7 441.8 L510.1 441.8 L510.5 441.8 L510.9 441.8 L511.3 441.8 L511.7 441.8 L512.1 441.8 L512.5 441.8 L512.9 441.8 L513.3 441.8 L513.7 441.8 L514.1 441.8 L514.5 441.8" fill="none" stroke="#0000ff" stroke-width="2.2" stroke-linejoin="round" clip-path="url(#c11)"/>
<path d="M514.7 643.5 L515.1 643.5 L515.5 643.5 L515.9 643.5 L516.3 643.5 L516.7 643.5 L517.1 643.5 L517.5 643.5 L517.9 643.5 L518.3 643.49 L518.7 643.49 L519.1 643.49 L519.5 643.49 L519.9 643.49 L520.3 643.49 L520.7 643.49 L521.1 643.48 L521.5 643.48 L521.9 643.48 L522.3 643.48 L522.7 643.48 L523.1 643.47 L523.5 643.47 L523.9 643.47 L524.3 643.47 L524.7 643.46 L525.1 643.46 L525.5 643.46 L525.9 643.45 L526.3 643.45 L526.7 643.45 L527.1 643.44 L527.5 643.44 L527.9 643.44 L528.3 643.43 L528.7 643.43 L529.1 643.42 L529.5 643.42 L529.9 643.42 L530.3 643.41 L530.7 643.41 L531.1 643.4 L531.5 643.4 L531.9 643.39 L532.3 643.39 L532.7 643.38 L533.1 643.38 L533.5 643.37 L533.9 643.37 L534.3 643.36 L534.7 643.36 L535.1 643.35 L535.5 643.35 L535.9 643.34 L536.3 643.34 L536.7 643.33 L537.1 643.33 L537.5 643.32 L537.9 643.32 L538.3 643.31 L538.7 643.3 L539.1 643.3 L539.5 643.29 L539.9 643.28 L540.3 643.28 L540.7 643.27 L541.1 643.27 L541.5 643.26 L541.9 643.25 L542.3 643.25 L542.7 643.24 L543.1 643.23 L543.5 643.23 L543.9 643.22 L544.3 643.21 L544.7 643.21 L545.1 643.2 L545.5 643.19 L545.9 643.18 L546.3 643.17 L546.7 643.16 L547.1 643.15 L547.5 643.14 L547.9 643.13 L548.3 643.11 L548.7 643.1 L549.1 643.08 L549.5 643.07 L549.9 643.05 L550.3 643.04 L550.7 643.02 L551.1 643 L551.5 642.98 L551.9 642.96 L552.3 642.94 L552.7 642.92 L553.1 642.9 L553.5 642.88 L553.9 642.86 L554.3 642.84 L554.7 642.82 L555.1 642.8 L555.5 642.77 L555.9 642.75 L556.3 642.73 L556.7 642.7 L557.1 642.68 L557.5 642.65 L557.9 642.63 L558.3 642.61 L558.7 642.58 L559.1 642.56 L559.5 642.53 L559.9 642.51 L560.3 642.48 L560.7 642.45 L561.1 642.42 L561.5 642.39 L561.9 642.36 L562.3 642.33 L562.7 642.3 L563.1 642.26 L563.5 642.23 L563.9 642.19 L564.3 642.15 L564.7 642.11 L565.1 642.08 L565.5 642.04 L565.9 642 L566.3 641.96 L566.7 641.92 L567.1 641.88 L567.5 641.85 L567.9 641.81 L568.3 641.77 L568.7 641.74 L569.1 641.7 L569.5 641.67 L569.9 641.64 L570.3 641.6 L570.7 641.57 L571.1 641.54 L571.5 641.5 L571.9 641.47 L572.3 641.43 L572.7 641.4 L573.1 641.36 L573.5 641.32 L573.9 641.28 L574.3 641.23 L574.7 641.19 L575.1 641.14 L575.5 641.09 L575.9 641.03 L576.3 640.97 L576.7 640.9 L577.1 640.82 L577.5 640.73 L577.9 640.64 L578.3 640.53 L578.7 640.42 L579.1 640.31 L579.5 640.18 L579.9 640.06 L580.3 639.93 L580.7 639.79 L581.1 639.65 L581.5 639.51 L581.9 639.37 L582.3 639.23 L582.7 639.09 L583.1 638.95 L583.5 638.81 L583.9 638.67 L584.3 638.53 L584.7 638.39 L585.1 638.26 L585.5 638.12 L585.9 637.98 L586.3 637.83 L586.7 637.69 L587.1 637.54 L587.5 637.4 L587.9 637.24 L588.3 637.09 L588.7 636.93 L589.1 636.77 L589.5 636.61 L589.9 636.44 L590.3 636.27 L590.7 636.1 L591.1 635.92 L591.5 635.73 L591.9 635.54 L592.3 635.35 L592.7 635.15 L593.1 634.94 L593.5 634.72 L593.9 634.49 L594.3 634.26 L594.7 634.01 L595.1 633.75 L595.5 633.49 L595.9 633.21 L596.3 632.93 L596.7 632.63 L597.1 632.31 L597.5 631.99 L597.9 631.64 L598.3 631.29 L598.7 630.91 L599.1 630.53 L599.5 630.13 L599.9 629.72 L600.3 629.29 L600.7 628.85 L601.1 628.38 L601.5 627.89 L601.9 627.37 L602.3 626.84 L602.7 626.3 L603.1 625.73 L603.5 625.15 L603.9 624.55 L604.3 623.95 L604.7 623.31 L605.1 622.65 L605.5 621.96 L605.9 621.23 L606.3 620.48 L606.7 619.7 L607.1 618.88 L607.5 618.02 L607.9 617.09 L608.3 616.1 L608.7 615.01 L609.1 613.82 L609.5 612.57 L609.9 611.28 L610.3 610.01 L610.7 608.77 L611.1 607.52 L611.5 606.26 L611.9 604.99 L612.3 603.71 L612.7 602.4 L613.1 601.06 L613.5 599.7 L613.9 598.32 L614.3 596.93 L614.7 595.55 L615.1 594.17 L615.5 592.82 L615.9 591.46 L616.3 590.06 L616.7 588.6 L617.1 587.07 L617.5 585.48 L617.9 583.84 L618.3 582.16 L618.7 580.47 L619.1 578.76 L619.5 577.04 L619.9 575.31 L620.3 573.55 L620.7 571.78 L621.1 569.97 L621.5 568.13 L621.9 566.26 L622.3 564.34 L622.7 562.38 L623.1 560.4 L623.5 558.4 L623.9 556.4 L624.3 554.39 L624.7 552.38 L625.1 550.34 L625.5 548.29 L625.9 546.22 L626.3 544.12 L626.7 542 L627.1 539.85 L627.5 537.7 L627.9 535.54 L628.3 533.37 L628.7 531.18 L629.1 529.03 L629.5 526.93 L629.9 524.87 L630.3 522.84 L630.7 520.88 L631.1 518.99 L631.5 517.16 L631.9 515.37 L632.3 513.61 L632.7 511.87 L633.1 510.17 L633.5 508.51 L633.9 506.84 L634.3 505.13 L634.7 503.35 L635.1 501.49 L635.5 499.58 L635.9 497.65 L636.3 495.72 L636.7 493.76 L637.1 491.79 L637.5 489.8 L637.9 487.79 L638.3 485.73 L638.7 483.68 L639.1 481.77 L639.5 479.98 L639.9 478.21 L640.3 476.35 L640.7 474.41 L641.1 472.47 L641.5 470.61 L641.9 468.8 L642.3 467.03 L642.7 465.29 L643.1 463.56 L643.5 461.93 L643.9 460.51 L644.3 459.2 L644.7 457.98 L645.1 456.85 L645.5 455.8 L645.9 454.78 L646.3 453.82 L646.7 453.05 L647.1 452.48 L647.5 451.96 L647.9 451.6 L648.3 451.51 L648.7 451.75 L649.1 452.21 L649.5 452.76 L649.9 453.4 L650.3 454.26 L650.7 455.27 L651.1 456.36 L651.5 457.59 L651.9 458.96 L652.3 460.43 L652.7 462.01 L653.1 463.78 L653.5 465.66 L653.9 467.56 L654.3 469.53 L654.7 471.51 L655.1 473.41 L655.5 475.26 L655.9 477.3 L656.3 479.65 L656.7 482.34 L657.1 485.52 L657.5 489.34 L657.9 494.06 L658.3 497.99 L658.7 501.17 L659.1 504.25 L659.5 507.43 L659.9 510.63 L660.3 514.06 L660.7 517.73 L661.1 521.25 L661.5 524.5 L661.9 527.69 L662.3 530.95 L662.7 534.2 L663.1 537.33 L663.5 540.37 L663.9 543.39 L664.3 546.48 L664.7 549.59 L665.1 552.75 L665.5 555.99 L665.9 559.37 L666.3 562.87 L666.7 566.35 L667.1 569.61 L667.5 572.68 L667.9 576.01 L668.3 580.17 L668.7 585.46 L669.1 589.97 L669.5 593.49 L669.9 596.61 L670.3 599.56 L670.7 602.33 L671.1 604.94 L671.5 607.43 L671.9 609.8 L672.3 612.07 L672.7 614.25 L673.1 616.36 L673.5 618.4 L673.9 620.37 L674.3 622.3 L674.7 624.21 L675.1 626 L675.5 627.5 L675.9 628.84 L676.3 630.09 L676.7 631.34 L677.1 632.59 L677.5 633.74 L677.9 634.73 L678.3 635.62 L678.7 636.45 L679.1 637.2 L679.5 637.89 L679.9 638.5 L680.3 639.05 L680.7 639.56 L681.1 640.03 L681.5 640.45 L681.9 640.82 L682.3 641.14 L682.7 641.44 L683.1 641.71 L683.5 641.96 L683.9 642.19 L684.3 642.38 L684.7 642.54 L685.1 642.68 L685.5 642.81 L685.9 642.93 L686.3 643.05 L686.7 643.15 L687.1 643.24 L687.5 643.32 L687.9 643.38 L688.3 643.45 L688.7 643.51 L689.1 643.57 L689.5 643.62 L689.9 643.68 L690.3 643.74 L690.7 643.79 L691.1 643.84 L691.5 643.88 L691.9 643.93 L692.3 643.97 L692.7 644 L693.1 644.03 L693.5 644.06 L693.9 644.08 L694.3 644.09 L694.7 644.1 L695.1 644.1 L695.5 644.1 L695.9 644.1 L696.3 644.1 L696.7 644.1 L697.1 644.1 L697.5 644.1 L697.9 644.1 L698.3 644.1 L698.7 644.1 L699.1 644.1 L699.5 644.1 L699.9 644.1 L700.3 644.1 L700.7 644.1 L701.1 644.1 L701.5 644.1 L701.9 644.1 L702.3 644.1 L702.7 644.1 L703.1 644.1 L703.5 644.1 L703.9 644.1 L704.3 644.1 L704.7 644.1 L705.1 644.1 L705.5 644.1 L705.9 644.1 L706.3 644.1 L706.7 644.1 L707.1 644.1 L707.5 644.1 L707.9 644.1 L708.3 644.1 L708.7 644.1 L709.1 644.1" fill="none" stroke="#ff0000" stroke-width="2.2" stroke-linejoin="round" clip-path="url(#c22)"/>
<path d="M514.7 643.4 L515.1 643.4 L515.5 643.4 L515.9 643.4 L516.3 643.4 L516.7 643.39 L517.1 643.39 L517.5 643.39 L517.9 643.39 L518.3 643.38 L518.7 643.38 L519.1 643.38 L519.5 643.37 L519.9 643.37 L520.3 643.36 L520.7 643.35 L521.1 643.35 L521.5 643.34 L521.9 643.34 L522.3 643.33 L522.7 643.32 L523.1 643.31 L523.5 643.31 L523.9 643.3 L524.3 643.29 L524.7 643.28 L525.1 643.27 L525.5 643.26 L525.9 643.26 L526.3 643.25 L526.7 643.24 L527.1 643.23 L527.5 643.22 L527.9 643.21 L528.3 643.2 L528.7 643.19 L529.1 643.17 L529.5 643.16 L529.9 643.15 L530.3 643.14 L530.7 643.13 L531.1 643.12 L531.5 643.11 L531.9 643.09 L532.3 643.08 L532.7 643.07 L533.1 643.06 L533.5 643.05 L533.9 643.03 L534.3 643.02 L534.7 643.01 L535.1 643 L535.5 642.98 L535.9 642.97 L536.3 642.95 L536.7 642.94 L537.1 642.92 L537.5 642.9 L537.9 642.88 L538.3 642.86 L538.7 642.84 L539.1 642.82 L539.5 642.79 L539.9 642.77 L540.3 642.74 L540.7 642.72 L541.1 642.69 L541.5 642.66 L541.9 642.64 L542.3 642.61 L542.7 642.58 L543.1 642.55 L543.5 642.52 L543.9 642.49 L544.3 642.46 L544.7 642.43 L545.1 642.4 L545.5 642.37 L545.9 642.33 L546.3 642.3 L546.7 642.27 L547.1 642.24 L547.5 642.2 L547.9 642.17 L548.3 642.14 L548.7 642.11 L549.1 642.07 L549.5 642.04 L549.9 642.01 L550.3 641.98 L550.7 641.94 L551.1 641.91 L551.5 641.87 L551.9 641.84 L552.3 641.8 L552.7 641.76 L553.1 641.73 L553.5 641.69 L553.9 641.65 L554.3 641.61 L554.7 641.57 L555.1 641.53 L555.5 641.49 L555.9 641.45 L556.3 641.4 L556.7 641.36 L557.1 641.32 L557.5 641.28 L557.9 641.23 L558.3 641.19 L558.7 641.14 L559.1 641.1 L559.5 641.06 L559.9 641.01 L560.3 640.97 L560.7 640.92 L561.1 640.88 L561.5 640.83 L561.9 640.78 L562.3 640.74 L562.7 640.69 L563.1 640.64 L563.5 640.59 L563.9 640.55 L564.3 640.5 L564.7 640.45 L565.1 640.4 L565.5 640.34 L565.9 640.29 L566.3 640.24 L566.7 640.18 L567.1 640.13 L567.5 640.07 L567.9 640.01 L568.3 639.96 L568.7 639.9 L569.1 639.84 L569.5 639.78 L569.9 639.72 L570.3 639.66 L570.7 639.6 L571.1 639.54 L571.5 639.48 L571.9 639.41 L572.3 639.35 L572.7 639.28 L573.1 639.21 L573.5 639.14 L573.9 639.06 L574.3 638.98 L574.7 638.9 L575.1 638.82 L575.5 638.74 L575.9 638.65 L576.3 638.55 L576.7 638.45 L577.1 638.35 L577.5 638.24 L577.9 638.13 L578.3 638.01 L578.7 637.89 L579.1 637.76 L579.5 637.63 L579.9 637.49 L580.3 637.35 L580.7 637.2 L581.1 637.05 L581.5 636.9 L581.9 636.74 L582.3 636.58 L582.7 636.41 L583.1 636.24 L583.5 636.07 L583.9 635.89 L584.3 635.71 L584.7 635.52 L585.1 635.31 L585.5 635.1 L585.9 634.88 L586.3 634.64 L586.7 634.4 L587.1 634.15 L587.5 633.88 L587.9 633.61 L588.3 633.33 L588.7 633.03 L589.1 632.71 L589.5 632.37 L589.9 632.02 L590.3 631.65 L590.7 631.28 L591.1 630.89 L591.5 630.5 L591.9 630.1 L592.3 629.7 L592.7 629.29 L593.1 628.87 L593.5 628.43 L593.9 627.99 L594.3 627.54 L594.7 627.08 L595.1 626.61 L595.5 626.14 L595.9 625.66 L596.3 625.18 L596.7 624.69 L597.1 624.2 L597.5 623.69 L597.9 623.18 L598.3 622.66 L598.7 622.14 L599.1 621.6 L599.5 621.06 L599.9 620.52 L600.3 619.96 L600.7 619.4 L601.1 618.82 L601.5 618.24 L601.9 617.65 L602.3 617.05 L602.7 616.44 L603.1 615.82 L603.5 615.2 L603.9 614.57 L604.3 613.94 L604.7 613.3 L605.1 612.66 L605.5 612.01 L605.9 611.36 L606.3 610.69 L606.7 610.02 L607.1 609.33 L607.5 608.64 L607.9 607.93 L608.3 607.2 L608.7 606.46 L609.1 605.7 L609.5 604.92 L609.9 604.12 L610.3 603.31 L610.7 602.49 L611.1 601.65 L611.5 600.8 L611.9 599.94 L612.3 599.06 L612.7 598.16 L613.1 597.25 L613.5 596.31 L613.9 595.34 L614.3 594.35 L614.7 593.33 L615.1 592.27 L615.5 591.19 L615.9 590.06 L616.3 588.9 L616.7 587.69 L617.1 586.44 L617.5 585.15 L617.9 583.82 L618.3 582.46 L618.7 581.08 L619.1 579.68 L619.5 578.26 L619.9 576.82 L620.3 575.35 L620.7 573.86 L621.1 572.34 L621.5 570.79 L621.9 569.21 L622.3 567.61 L622.7 565.97 L623.1 564.29 L623.5 562.58 L623.9 560.84 L624.3 559.08 L624.7 557.3 L625.1 555.51 L625.5 553.72 L625.9 551.91 L626.3 550.08 L626.7 548.18 L627.1 546.21 L627.5 544.12 L627.9 541.88 L628.3 539.58 L628.7 537.26 L629.1 535 L629.5 532.81 L629.9 530.64 L630.3 528.5 L630.7 526.37 L631.1 524.25 L631.5 522.17 L631.9 520.15 L632.3 518.2 L632.7 516.3 L633.1 514.42 L633.5 512.54 L633.9 510.64 L634.3 508.75 L634.7 506.85 L635.1 504.96 L635.5 503.07 L635.9 501.17 L636.3 499.27 L636.7 497.38 L637.1 495.5 L637.5 493.64 L637.9 491.79 L638.3 489.91 L638.7 487.95 L639.1 485.86 L639.5 483.73 L639.9 481.7 L640.3 479.73 L640.7 477.79 L641.1 475.83 L641.5 473.87 L641.9 472 L642.3 470.22 L642.7 468.52 L643.1 466.96 L643.5 465.57 L643.9 464.29 L644.3 463.1 L644.7 461.98 L645.1 460.95 L645.5 459.97 L645.9 459.08 L646.3 458.33 L646.7 457.67 L647.1 457.12 L647.5 456.69 L647.9 456.29 L648.3 456.06 L648.7 456.13 L649.1 456.42 L649.5 456.8 L649.9 457.22 L650.3 457.76 L650.7 458.41 L651.1 459.26 L651.5 460.34 L651.9 461.49 L652.3 462.68 L652.7 463.96 L653.1 465.33 L653.5 466.79 L653.9 468.39 L654.3 470.14 L654.7 472 L655.1 474.01 L655.5 476.18 L655.9 478.44 L656.3 480.81 L656.7 483.34 L657.1 485.97 L657.5 489.26 L657.9 494.02 L658.3 497.99 L658.7 501.17 L659.1 504.25 L659.5 507.43 L659.9 510.63 L660.3 514.06 L660.7 517.73 L661.1 521.25 L661.5 524.5 L661.9 527.69 L662.3 530.95 L662.7 534.2 L663.1 537.33 L663.5 540.37 L663.9 543.39 L664.3 546.48 L664.7 549.59 L665.1 552.75 L665.5 555.99 L665.9 559.37 L666.3 562.87 L666.7 566.35 L667.1 569.61 L667.5 572.68 L667.9 576.01 L668.3 580.17 L668.7 585.46 L669.1 589.97 L669.5 593.49 L669.9 596.61 L670.3 599.56 L670.7 602.33 L671.1 604.94 L671.5 607.43 L671.9 609.8 L672.3 612.07 L672.7 614.25 L673.1 616.36 L673.5 618.4 L673.9 620.37 L674.3 622.3 L674.7 624.21 L675.1 626 L675.5 627.5 L675.9 628.84 L676.3 630.09 L676.7 631.34 L677.1 632.59 L677.5 633.74 L677.9 634.73 L678.3 635.62 L678.7 636.45 L679.1 637.2 L679.5 637.89 L679.9 638.5 L680.3 639.05 L680.7 639.56 L681.1 640.03 L681.5 640.45 L681.9 640.82 L682.3 641.14 L682.7 641.44 L683.1 641.71 L683.5 641.96 L683.9 642.19 L684.3 642.38 L684.7 642.54 L685.1 642.68 L685.5 642.81 L685.9 642.93 L686.3 643.05 L686.7 643.15 L687.1 643.24 L687.5 643.32 L687.9 643.38 L688.3 643.45 L688.7 643.51 L689.1 643.57 L689.5 643.62 L689.9 643.68 L690.3 643.74 L690.7 643.79 L691.1 643.84 L691.5 643.88 L691.9 643.93 L692.3 643.97 L692.7 644 L693.1 644.03 L693.5 644.06 L693.9 644.08 L694.3 644.09 L694.7 644.1 L695.1 644.1 L695.5 644.1 L695.9 644.1 L696.3 644.1 L696.7 644.1 L697.1 644.1 L697.5 644.1 L697.9 644.1 L698.3 644.1 L698.7 644.1 L699.1 644.1 L699.5 644.1 L699.9 644.1 L700.3 644.1 L700.7 644.1 L701.1 644.1 L701.5 644.1 L701.9 644.1 L702.3 644.1 L702.7 644.1 L703.1 644.1 L703.5 644.1 L703.9 644.1 L704.3 644.1 L704.7 644.1 L705.1 644.1 L705.5 644.1 L705.9 644.1 L706.3 644.1 L706.7 644.1 L707.1 644.1 L707.5 644.1 L707.9 644.1 L708.3 644.1 L708.7 644.1 L709.1 644.1" fill="none" stroke="#0000ff" stroke-width="2.2" stroke-linejoin="round" clip-path="url(#c22)"/>
<path d="M184.41 262.36 C186.76 262.44 189.26 262.99 190.98 264.24 C192.7 265.49 194.03 267.75 194.73 269.87 C195.44 271.98 195.51 274.64 195.2 276.9 C194.89 279.17 194.03 281.52 192.86 283.47 C191.68 285.43 189.88 287.46 188.16 288.63 C186.44 289.81 184.57 290.35 182.53 290.51 C180.5 290.67 178.16 290.28 175.97 289.57 C173.78 288.87 171.27 287.62 169.4 286.29 C167.52 284.96 165.69 283.16 164.71 281.6 C163.72 280.03 163.33 278.47 163.49 276.9 C163.64 275.34 164.5 273.78 165.64 272.21 C166.79 270.65 168.46 268.93 170.34 267.52 C172.21 266.11 174.56 264.63 176.9 263.77 C179.25 262.91 182.06 262.28 184.41 262.36Z" fill="none" stroke="#ff0000" stroke-width="1.5"/>
<path d="M185.35 269.87 C186.08 270.05 187.15 270.57 187.69 271.27 C188.24 271.98 188.59 273.15 188.63 274.09 C188.68 275.03 188.37 276.04 187.98 276.9 C187.59 277.76 187.27 278.55 186.29 279.25 C185.3 279.95 183.19 281.02 182.06 281.13 C180.94 281.24 180.11 280.53 179.53 279.91 C178.95 279.28 178.64 278.26 178.59 277.37 C178.55 276.48 178.83 275.5 179.25 274.56 C179.67 273.62 180.45 272.48 181.13 271.74 C181.8 271.01 182.58 270.46 183.28 270.15 C183.99 269.84 184.61 269.68 185.35 269.87Z" fill="none" stroke="#ff0000" stroke-width="1.5"/>
<path d="M298.47 258.89 C300.66 258.78 302.38 259.09 304.1 259.83 C305.82 260.56 307.62 261.7 308.79 263.3 C309.97 264.89 310.67 267.29 311.14 269.4 C311.61 271.51 311.84 273.62 311.61 275.97 C311.37 278.31 310.83 281.28 309.73 283.47 C308.64 285.66 306.76 287.69 305.04 289.1 C303.32 290.51 301.13 291.29 299.41 291.92 C297.69 292.54 296.44 293.01 294.72 292.86 C293 292.7 290.97 291.92 289.09 290.98 C287.21 290.04 285.18 288.63 283.46 287.23 C281.74 285.82 280.17 284.1 278.77 282.53 C277.36 280.97 276.06 279.25 275.01 277.84 C273.97 276.43 272.79 275.34 272.48 274.09 C272.17 272.84 272.56 271.35 273.14 270.34 C273.72 269.32 274.7 268.65 275.95 267.99 C277.2 267.33 279.08 267.1 280.64 266.39 C282.21 265.69 283.62 264.75 285.34 263.77 C287.06 262.78 288.78 261.3 290.97 260.48 C293.16 259.67 296.28 259 298.47 258.89Z" fill="none" stroke="#ff0000" stroke-width="1.5"/>
<path d="M298.47 264.71 C300.51 264.71 302.69 265.8 304.1 267.05 C305.51 268.3 306.45 270.41 306.92 272.21 C307.39 274.01 307.23 276.12 306.92 277.84 C306.6 279.56 305.98 281.2 305.04 282.53 C304.1 283.86 302.69 285.19 301.29 285.82 C299.88 286.44 298.32 286.52 296.6 286.29 C294.88 286.05 292.45 285.35 290.97 284.41 C289.48 283.47 288.39 282.06 287.68 280.66 C286.98 279.25 286.66 277.53 286.74 275.97 C286.82 274.4 287.29 272.76 288.15 271.27 C289.01 269.79 290.18 268.15 291.9 267.05 C293.62 265.96 296.44 264.71 298.47 264.71Z" fill="none" stroke="#ff0000" stroke-width="1.5"/>
<path d="M183.47 387.01 C185.04 387.2 187.3 387.17 189.1 388.14 C190.9 389.11 193.04 390.95 194.26 392.83 C195.48 394.71 196.06 397.21 196.42 399.4 C196.78 401.59 196.7 403.78 196.42 405.97 C196.14 408.16 195.56 410.42 194.73 412.53 C193.9 414.65 192.86 417.07 191.45 418.63 C190.04 420.2 188.01 421.29 186.29 421.92 C184.57 422.54 183 422.62 181.13 422.39 C179.25 422.15 177.14 421.45 175.03 420.51 C172.92 419.57 170.41 418.16 168.46 416.76 C166.5 415.35 164.58 413.79 163.3 412.06 C162.02 410.34 161.23 408.39 160.76 406.43 C160.3 404.48 160.14 402.29 160.48 400.34 C160.83 398.38 161.66 396.35 162.83 394.71 C164 393.06 165.64 391.61 167.52 390.48 C169.4 389.36 172.06 388.53 174.09 387.95 C176.12 387.37 178.16 387.17 179.72 387.01 C181.28 386.85 181.91 386.82 183.47 387.01Z" fill="none" stroke="#ff0000" stroke-width="1.5"/>
<path d="M183.47 393.3 C184.88 393.45 186.44 393.69 187.69 394.71 C188.95 395.72 190.28 397.68 190.98 399.4 C191.68 401.12 192 403.07 191.92 405.03 C191.84 406.98 191.21 409.48 190.51 411.13 C189.81 412.77 188.95 414.05 187.69 414.88 C186.44 415.71 184.57 416.1 183 416.1 C181.44 416.1 179.95 415.71 178.31 414.88 C176.67 414.05 174.56 412.53 173.15 411.13 C171.74 409.72 170.52 407.92 169.87 406.43 C169.21 404.95 168.97 403.62 169.21 402.21 C169.44 400.8 170.3 399.16 171.27 397.99 C172.24 396.82 173.7 395.88 175.03 395.17 C176.36 394.47 177.84 394.08 179.25 393.77 C180.66 393.45 182.06 393.14 183.47 393.3Z" fill="none" stroke="#ff0000" stroke-width="1.5"/>
<path d="M296.6 387.01 C298.32 387.04 300.35 387.09 302.23 387.67 C304.1 388.25 306.37 389 307.86 390.48 C309.34 391.97 310.44 394.47 311.14 396.58 C311.84 398.69 312.08 400.8 312.08 403.15 C312.08 405.5 311.77 408.31 311.14 410.66 C310.51 413 309.5 415.43 308.33 417.23 C307.15 419.02 305.59 420.59 304.1 421.45 C302.62 422.31 301.13 422.54 299.41 422.39 C297.69 422.23 295.81 421.45 293.78 420.51 C291.75 419.57 289.4 418.09 287.21 416.76 C285.02 415.43 282.36 414.02 280.64 412.53 C278.92 411.05 277.67 409.48 276.89 407.84 C276.11 406.2 275.87 404.4 275.95 402.68 C276.03 400.96 276.5 399.08 277.36 397.52 C278.22 395.96 279.63 394.63 281.11 393.3 C282.6 391.97 284.48 390.51 286.27 389.54 C288.07 388.57 290.18 387.9 291.9 387.48 C293.62 387.06 294.88 386.98 296.6 387.01Z" fill="none" stroke="#ff0000" stroke-width="1.5"/>
<path d="M299.41 393.3 C300.74 393.56 302.85 394.08 304.1 395.17 C305.35 396.27 306.32 398.22 306.92 399.87 C307.51 401.51 307.75 403.23 307.67 405.03 C307.59 406.83 307.2 409.02 306.45 410.66 C305.7 412.3 304.42 413.91 303.16 414.88 C301.91 415.85 300.43 416.4 298.94 416.48 C297.46 416.55 295.89 416.16 294.25 415.35 C292.61 414.54 290.45 413 289.09 411.6 C287.73 410.19 286.63 408.39 286.09 406.9 C285.54 405.42 285.46 404.09 285.8 402.68 C286.15 401.27 287.06 399.71 288.15 398.46 C289.25 397.21 291.04 395.99 292.37 395.17 C293.7 394.36 294.95 393.89 296.13 393.58 C297.3 393.27 298.08 393.03 299.41 393.3Z" fill="none" stroke="#ff0000" stroke-width="1.5"/>
<path d="M183.47 258.42 C185.19 258.39 186.6 258.42 188.16 259.08 C189.73 259.73 191.6 260.95 192.86 262.36 C194.11 263.77 195 265.57 195.67 267.52 C196.34 269.48 196.81 271.74 196.89 274.09 C196.97 276.43 196.66 279.41 196.14 281.6 C195.62 283.79 194.81 285.51 193.79 287.23 C192.78 288.95 191.53 290.78 190.04 291.92 C188.56 293.06 186.6 293.92 184.88 294.08 C183.16 294.23 181.67 293.45 179.72 292.86 C177.76 292.26 175.34 291.37 173.15 290.51 C170.96 289.65 168.54 288.87 166.58 287.69 C164.63 286.52 162.7 285.11 161.42 283.47 C160.14 281.83 159.28 279.72 158.89 277.84 C158.5 275.97 158.65 273.93 159.08 272.21 C159.5 270.49 160.33 268.85 161.42 267.52 C162.52 266.19 163.85 265.25 165.64 264.24 C167.44 263.22 170.18 262.25 172.21 261.42 C174.25 260.59 175.97 259.76 177.84 259.26 C179.72 258.76 181.75 258.45 183.47 258.42Z" fill="none" stroke="#0000ff" stroke-width="1.5"/>
<path d="M183.47 265.17 C185.04 265.41 187.62 265.88 189.1 267.05 C190.59 268.22 191.79 270.41 192.39 272.21 C192.98 274.01 193.06 275.97 192.67 277.84 C192.28 279.72 191.26 281.99 190.04 283.47 C188.82 284.96 187.07 286.29 185.35 286.76 C183.63 287.23 181.6 286.76 179.72 286.29 C177.84 285.82 175.65 284.96 174.09 283.94 C172.52 282.92 171.15 281.52 170.34 280.19 C169.52 278.86 169.13 277.37 169.21 275.97 C169.29 274.56 169.84 273.07 170.8 271.74 C171.77 270.41 173.54 269.01 175.03 267.99 C176.51 266.97 178.31 266.11 179.72 265.64 C181.13 265.17 181.91 264.94 183.47 265.17Z" fill="none" stroke="#0000ff" stroke-width="1.5"/>
<path d="M297.53 261.42 C299.25 261.42 301.44 261.58 303.16 262.36 C304.88 263.14 306.6 264.47 307.86 266.11 C309.11 267.75 310.2 270.1 310.67 272.21 C311.14 274.32 311.14 276.59 310.67 278.78 C310.2 280.97 309.11 283.55 307.86 285.35 C306.6 287.15 304.88 288.63 303.16 289.57 C301.44 290.51 299.57 290.98 297.53 290.98 C295.5 290.98 293 290.35 290.97 289.57 C288.93 288.79 286.98 287.62 285.34 286.29 C283.69 284.96 282.21 283.32 281.11 281.6 C280.02 279.88 279.16 277.61 278.77 275.97 C278.38 274.32 278.3 272.99 278.77 271.74 C279.24 270.49 280.17 269.55 281.58 268.46 C282.99 267.36 285.34 266.19 287.21 265.17 C289.09 264.16 291.12 262.99 292.84 262.36 C294.56 261.73 295.81 261.42 297.53 261.42Z" fill="none" stroke="#0000ff" stroke-width="1.5"/>
<path d="M297.53 270.34 C298.79 270.37 300.22 270.65 301.29 271.27 C302.35 271.9 303.41 273.07 303.91 274.09 C304.42 275.11 304.45 276.2 304.29 277.37 C304.13 278.55 303.71 280.19 302.98 281.13 C302.24 282.06 301.02 282.69 299.88 283 C298.74 283.32 297.38 283.32 296.13 283 C294.88 282.69 293.3 282.06 292.37 281.13 C291.45 280.19 290.78 278.62 290.59 277.37 C290.4 276.12 290.72 274.67 291.25 273.62 C291.78 272.57 292.73 271.63 293.78 271.09 C294.83 270.54 296.28 270.3 297.53 270.34Z" fill="none" stroke="#0000ff" stroke-width="1.5"/>
<path d="M184.41 386.45 C185.97 386.68 188.32 387 190.04 388.14 C191.76 389.28 193.61 391.26 194.73 393.3 C195.86 395.33 196.41 398.07 196.8 400.34 C197.19 402.6 197.34 404.71 197.08 406.9 C196.81 409.09 196.06 411.44 195.2 413.47 C194.34 415.51 193.25 417.69 191.92 419.1 C190.59 420.51 188.79 421.4 187.23 421.92 C185.66 422.43 184.25 422.43 182.53 422.2 C180.81 421.96 178.94 421.42 176.9 420.51 C174.87 419.6 172.52 418.16 170.34 416.76 C168.15 415.35 165.46 413.71 163.77 412.06 C162.08 410.42 160.67 408.7 160.2 406.9 C159.73 405.11 160.36 403.15 160.95 401.27 C161.55 399.4 162.52 397.36 163.77 395.64 C165.02 393.92 166.58 392.2 168.46 390.95 C170.34 389.7 172.99 388.84 175.03 388.14 C177.06 387.43 179.09 387.01 180.66 386.73 C182.22 386.45 182.85 386.21 184.41 386.45Z" fill="none" stroke="#0000ff" stroke-width="1.5"/>
<path d="M183.47 392.36 C184.88 392.52 186.76 393.06 188.16 394.24 C189.57 395.41 191.14 397.6 191.92 399.4 C192.7 401.2 192.93 402.99 192.86 405.03 C192.78 407.06 192.23 409.8 191.45 411.6 C190.67 413.39 189.49 414.88 188.16 415.82 C186.83 416.76 185.04 417.23 183.47 417.23 C181.91 417.23 180.34 416.68 178.78 415.82 C177.22 414.96 175.42 413.47 174.09 412.06 C172.76 410.66 171.46 408.86 170.8 407.37 C170.15 405.89 169.91 404.64 170.15 403.15 C170.38 401.66 171.24 399.79 172.21 398.46 C173.18 397.13 174.71 396.03 175.97 395.17 C177.22 394.31 178.47 393.77 179.72 393.3 C180.97 392.83 182.06 392.2 183.47 392.36Z" fill="none" stroke="#0000ff" stroke-width="1.5"/>
<path d="M300.35 388.14 C301.91 388.37 304.42 388.92 305.98 390.01 C307.54 391.11 308.83 392.83 309.73 394.71 C310.64 396.58 311.19 399.08 311.42 401.27 C311.66 403.46 311.5 405.65 311.14 407.84 C310.78 410.03 310.12 412.46 309.26 414.41 C308.4 416.37 307.31 418.35 305.98 419.57 C304.65 420.79 302.85 421.45 301.29 421.73 C299.72 422.01 298.47 421.78 296.6 421.26 C294.72 420.74 292.22 419.7 290.03 418.63 C287.84 417.57 285.34 416.21 283.46 414.88 C281.58 413.55 279.89 412.22 278.77 410.66 C277.64 409.09 276.94 407.22 276.7 405.5 C276.47 403.78 276.78 401.9 277.36 400.34 C277.94 398.77 278.85 397.44 280.17 396.11 C281.5 394.78 283.38 393.38 285.34 392.36 C287.29 391.34 290.03 390.64 291.9 390.01 C293.78 389.39 295.19 388.92 296.6 388.61 C298 388.29 298.79 387.9 300.35 388.14Z" fill="none" stroke="#0000ff" stroke-width="1.5"/>
<path d="M299.41 395.17 C300.82 395.25 302.1 395.64 303.16 396.58 C304.23 397.52 305.32 399.24 305.79 400.8 C306.26 402.37 306.18 404.32 305.98 405.97 C305.78 407.61 305.35 409.37 304.57 410.66 C303.79 411.94 302.38 413.07 301.29 413.66 C300.19 414.25 299.25 414.41 298 414.22 C296.75 414.04 295.11 413.36 293.78 412.53 C292.45 411.71 290.97 410.5 290.03 409.25 C289.09 408 288.39 406.28 288.15 405.03 C287.92 403.78 288.15 402.84 288.62 401.74 C289.09 400.65 289.95 399.4 290.97 398.46 C291.98 397.52 293.31 396.66 294.72 396.11 C296.13 395.57 298 395.1 299.41 395.17Z" fill="none" stroke="#0000ff" stroke-width="1.5"/>
<path d="M183.18 472.27 C184.7 472.58 186.97 473.33 188.64 475 C190.3 476.67 192.03 479.24 193.18 482.27 C194.33 485.3 195.03 489.24 195.55 493.18 C196.06 497.12 196.27 501.36 196.27 505.91 C196.27 510.45 195.91 515.61 195.55 520.45 C195.18 525.3 194.64 530.45 194.09 535 C193.55 539.55 193.03 543.94 192.27 547.73 C191.52 551.52 190.61 555.3 189.55 557.73 C188.48 560.15 186.97 561.42 185.91 562.27 C184.85 563.12 184.39 563.12 183.18 562.82 C181.97 562.52 180.3 562.06 178.64 560.45 C176.97 558.85 175 556.52 173.18 553.18 C171.36 549.85 169.3 545 167.73 540.45 C166.15 535.91 164.79 530.45 163.73 525.91 C162.67 521.36 161.82 517.12 161.36 513.18 C160.91 509.24 160.7 505.91 161 502.27 C161.3 498.64 161.91 494.7 163.18 491.36 C164.45 488.03 166.67 484.85 168.64 482.27 C170.61 479.7 173.18 477.42 175 475.91 C176.82 474.39 178.18 473.79 179.55 473.18 C180.91 472.58 181.67 471.97 183.18 472.27Z" fill="none" stroke="#ff0000" stroke-width="1.5"/>
<path d="M183.18 485 C184.24 485.45 185.82 486.67 186.82 488.64 C187.82 490.61 188.64 493.64 189.18 496.82 C189.73 500 190.03 504.09 190.09 507.73 C190.15 511.36 189.94 515 189.55 518.64 C189.15 522.27 188.39 526.52 187.73 529.55 C187.06 532.58 186.21 535.3 185.55 536.82 C184.88 538.33 184.58 538.79 183.73 538.64 C182.88 538.48 181.76 538.03 180.45 535.91 C179.15 533.79 177.21 529.7 175.91 525.91 C174.61 522.12 173.3 516.67 172.64 513.18 C171.97 509.7 171.82 507.73 171.91 505 C172 502.27 172.36 499.39 173.18 496.82 C174 494.24 175.61 491.36 176.82 489.55 C178.03 487.73 179.39 486.67 180.45 485.91 C181.52 485.15 182.12 484.55 183.18 485Z" fill="none" stroke="#ff0000" stroke-width="1.5"/>
<path d="M298.73 470.45 C300.85 470.61 302.82 471.36 304.55 473.18 C306.27 475 307.94 478.03 309.09 481.36 C310.24 484.7 311 488.79 311.45 493.18 C311.91 497.58 311.91 502.58 311.82 507.73 C311.73 512.88 311.36 518.64 310.91 524.09 C310.45 529.55 309.85 535 309.09 540.45 C308.33 545.91 307.27 552.58 306.36 556.82 C305.45 561.06 304.61 563.7 303.64 565.91 C302.67 568.12 301.76 569.48 300.55 570.09 C299.33 570.7 297.67 570.24 296.36 569.55 C295.06 568.85 293.79 567.42 292.73 565.91 C291.67 564.39 290.91 563.18 290 560.45 C289.09 557.73 288.18 552.88 287.27 549.55 C286.36 546.21 285.76 543.48 284.55 540.45 C283.33 537.42 281.52 535 280 531.36 C278.48 527.73 276.58 522.88 275.45 518.64 C274.33 514.39 273.52 509.85 273.27 505.91 C273.03 501.97 273.33 498.33 274 495 C274.67 491.67 275.67 488.79 277.27 485.91 C278.88 483.03 281.21 480 283.64 477.73 C286.06 475.45 289.3 473.48 291.82 472.27 C294.33 471.06 296.61 470.3 298.73 470.45Z" fill="none" stroke="#ff0000" stroke-width="1.5"/>
<path d="M298.73 481.36 C300.15 481.61 302.3 482.27 303.64 484.09 C304.97 485.91 306.03 488.94 306.73 492.27 C307.42 495.61 307.73 500 307.82 504.09 C307.91 508.18 307.67 512.88 307.27 516.82 C306.88 520.76 306.21 524.39 305.45 527.73 C304.7 531.06 303.57 534.59 302.73 536.82 C301.89 539.04 301.09 540.16 300.43 541.07 C299.76 541.98 299.29 542.27 298.73 542.27 C298.16 542.27 297.72 541.68 297.03 541.07 C296.33 540.47 295.72 540.86 294.55 538.64 C293.37 536.41 291.27 531.67 290 527.73 C288.73 523.79 287.58 518.94 286.91 515 C286.24 511.06 285.94 507.58 286 504.09 C286.06 500.61 286.45 496.97 287.27 494.09 C288.09 491.21 289.61 488.73 290.91 486.82 C292.21 484.91 293.79 483.55 295.09 482.64 C296.39 481.73 297.3 481.12 298.73 481.36Z" fill="none" stroke="#ff0000" stroke-width="1.5"/>
<path d="M183.18 469.18 C185.15 469.33 187.73 470.39 189.55 472.27 C191.36 474.15 192.88 476.97 194.09 480.45 C195.3 483.94 196.27 488.94 196.82 493.18 C197.36 497.42 197.42 501.36 197.36 505.91 C197.3 510.45 196.91 515.3 196.45 520.45 C196 525.61 195.33 531.36 194.64 536.82 C193.94 542.27 193.27 547.73 192.27 553.18 C191.27 558.64 189.85 565.45 188.64 569.55 C187.42 573.64 185.72 576.11 185 577.73 C184.28 579.35 184.73 578.8 184.34 579.25 C183.94 579.71 183.2 580.45 182.64 580.45 C182.07 580.45 181.45 579.86 180.94 579.25 C180.42 578.65 180.53 579.35 179.55 576.82 C178.56 574.29 176.67 569.24 175 564.09 C173.33 558.94 171.36 551.97 169.55 545.91 C167.73 539.85 165.91 533.48 164.09 527.73 C162.27 521.97 159.85 515.45 158.64 511.36 C157.42 507.27 156.82 505.91 156.82 503.18 C156.82 500.45 157.42 497.88 158.64 495 C159.85 492.12 161.97 488.94 164.09 485.91 C166.21 482.88 169.09 479.24 171.36 476.82 C173.64 474.39 175.76 472.64 177.73 471.36 C179.7 470.09 181.21 469.03 183.18 469.18Z" fill="none" stroke="#0000ff" stroke-width="1.5"/>
<path d="M183.73 480.09 C185.24 480.55 187.3 481.91 188.64 484.09 C189.97 486.27 191.03 489.85 191.73 493.18 C192.42 496.52 192.82 499.85 192.82 504.09 C192.82 508.33 192.33 513.79 191.73 518.64 C191.12 523.48 190 528.94 189.18 533.18 C188.36 537.42 187.38 541.56 186.82 544.09 C186.25 546.62 186.25 547.44 185.79 548.35 C185.34 549.25 184.66 549.55 184.09 549.55 C183.52 549.55 182.85 548.8 182.39 548.35 C181.94 547.89 182.29 548.74 181.36 546.82 C180.43 544.9 178.33 540.61 176.82 536.82 C175.3 533.03 173.58 528.33 172.27 524.09 C170.97 519.85 169.61 514.7 169 511.36 C168.39 508.03 168.39 506.82 168.64 504.09 C168.88 501.36 169.55 497.88 170.45 495 C171.36 492.12 172.58 489.09 174.09 486.82 C175.61 484.55 177.94 482.48 179.55 481.36 C181.15 480.24 182.21 479.64 183.73 480.09Z" fill="none" stroke="#0000ff" stroke-width="1.5"/>
<path d="M299.09 473.18 C301.06 473.39 302.97 473.85 304.55 475.36 C306.12 476.88 307.58 479.3 308.55 482.27 C309.52 485.24 309.97 488.94 310.36 493.18 C310.76 497.42 310.91 502.58 310.91 507.73 C310.91 512.88 310.67 518.64 310.36 524.09 C310.06 529.55 309.61 535.61 309.09 540.45 C308.58 545.3 308.03 549.24 307.27 553.18 C306.52 557.12 305.32 561.35 304.55 564.09 C303.77 566.83 303.22 568.5 302.61 569.62 C302 570.74 301.48 570.82 300.91 570.82 C300.34 570.82 299.82 570.28 299.21 569.62 C298.6 568.95 298.35 568.19 297.27 566.82 C296.19 565.44 294.18 563.48 292.73 561.36 C291.27 559.24 289.61 556.67 288.55 554.09 C287.48 551.52 287.18 548.48 286.36 545.91 C285.55 543.33 284.7 540.91 283.64 538.64 C282.58 536.36 281 534.7 280 532.27 C279 529.85 278.15 527.88 277.64 524.09 C277.12 520.3 276.91 514.09 276.91 509.55 C276.91 505 277.12 500.61 277.64 496.82 C278.15 493.03 278.7 489.85 280 486.82 C281.3 483.79 283.33 480.76 285.45 478.64 C287.58 476.52 290.45 475 292.73 474.09 C295 473.18 297.12 472.97 299.09 473.18Z" fill="none" stroke="#0000ff" stroke-width="1.5"/>
<path d="M298.73 485.91 C299.73 486.27 301.39 486.97 302.36 488.64 C303.33 490.3 304.09 493.03 304.55 495.91 C305 498.79 305.09 502.42 305.09 505.91 C305.09 509.39 304.88 513.64 304.55 516.82 C304.21 520 303.7 522.88 303.09 525 C302.48 527.12 301.58 528.64 300.91 529.55 C300.24 530.45 299.85 530.61 299.09 530.45 C298.33 530.3 297.42 530.15 296.36 528.64 C295.3 527.12 293.79 524.24 292.73 521.36 C291.67 518.48 290.61 514.55 290 511.36 C289.39 508.18 289.03 505.15 289.09 502.27 C289.15 499.39 289.61 496.36 290.36 494.09 C291.12 491.82 292.64 489.91 293.64 488.64 C294.64 487.36 295.52 486.91 296.36 486.45 C297.21 486 297.73 485.55 298.73 485.91Z" fill="none" stroke="#0000ff" stroke-width="1.5"/>
<path d="M355.45 471.36 C357.42 471.76 360.61 472.82 362.73 474.64 C364.85 476.45 366.67 479.03 368.18 482.27 C369.7 485.52 371 489.85 371.82 494.09 C372.64 498.33 373 503.03 373.09 507.73 C373.18 512.42 372.65 518.56 372.36 522.27 C372.08 525.98 371.73 527.6 371.4 530 C371.07 532.4 370.78 534.45 370.4 536.7 C370.02 538.95 369.55 541.65 369.1 543.5 C368.65 545.35 368.22 546.55 367.7 547.8 C367.18 549.05 366.57 549.98 366 551 C365.43 552.02 364.92 552.57 364.3 553.9 C363.68 555.23 362.97 557.37 362.3 559 C361.63 560.63 360.98 562.3 360.3 563.7 C359.62 565.1 358.88 566.33 358.2 567.4 C357.52 568.47 356.82 569.53 356.2 570.1 C355.58 570.67 355.05 570.92 354.5 570.8 C353.95 570.68 353.45 570.13 352.9 569.4 C352.35 568.67 351.77 567.58 351.2 566.4 C350.63 565.22 350.07 563.87 349.5 562.3 C348.93 560.73 348.37 559.02 347.8 557 C347.23 554.98 346.67 552.45 346.1 550.2 C345.53 547.95 344.9 545.75 344.4 543.5 C343.9 541.25 343.48 538.95 343.1 536.7 C342.72 534.45 342.65 532.71 342.1 530 C341.55 527.29 340.32 524.47 339.82 520.45 C339.32 516.44 339.15 510.45 339.09 505.91 C339.03 501.36 338.97 497.12 339.45 493.18 C339.94 489.24 340.85 485.24 342 482.27 C343.15 479.3 344.88 477.03 346.36 475.36 C347.85 473.7 349.39 472.94 350.91 472.27 C352.42 471.61 353.48 470.97 355.45 471.36Z" fill="none" stroke="#ff0000" stroke-width="1.5"/>
<path d="M355.45 482.09 C356.94 482.42 359.3 483.36 360.91 485.36 C362.52 487.36 364.09 490.67 365.09 494.09 C366.09 497.52 366.7 502.12 366.91 505.91 C367.12 509.7 366.97 512.8 366.36 516.82 C365.76 520.83 364.09 527.24 363.3 530 C362.51 532.76 362.22 532.28 361.6 533.4 C360.98 534.52 360.27 535.7 359.6 536.7 C358.93 537.7 358.28 538.78 357.6 539.4 C356.93 540.02 356.23 540.4 355.55 540.4 C354.87 540.4 354.18 540.12 353.5 539.4 C352.82 538.68 352.17 537.67 351.5 536.1 C350.83 534.53 350.3 532.91 349.5 530 C348.7 527.09 347.4 522.5 346.73 518.64 C346.05 514.77 345.58 510.61 345.45 506.82 C345.33 503.03 345.48 499.15 346 495.91 C346.52 492.67 347.55 489.45 348.55 487.36 C349.55 485.27 350.85 484.24 352 483.36 C353.15 482.48 353.97 481.76 355.45 482.09Z" fill="none" stroke="#ff0000" stroke-width="1.5"/>
<path d="M478.64 474.09 C480.36 474.39 483.03 475.15 485 476.82 C486.97 478.48 489.03 481.06 490.45 484.09 C491.88 487.12 492.85 491.06 493.55 495 C494.24 498.94 494.55 503.18 494.64 507.73 C494.73 512.27 494.58 517.42 494.09 522.27 C493.61 527.12 492.64 532.27 491.73 536.82 C490.82 541.36 489.76 546.06 488.64 549.55 C487.52 553.03 486.08 555.96 485 557.73 C483.92 559.5 482.91 559.56 482.15 560.16 C481.4 560.77 481.02 561.36 480.45 561.36 C479.89 561.36 479.51 560.62 478.75 560.16 C478 559.71 477.14 560.41 475.91 558.64 C474.68 556.87 472.73 553.48 471.36 549.55 C470 545.61 468.7 540.15 467.73 535 C466.76 529.85 466.06 523.48 465.55 518.64 C465.03 513.79 464.73 509.85 464.64 505.91 C464.55 501.97 464.64 498.33 465 495 C465.36 491.67 465.91 488.64 466.82 485.91 C467.73 483.18 469.15 480.45 470.45 478.64 C471.76 476.82 473.27 475.76 474.64 475 C476 474.24 476.91 473.79 478.64 474.09Z" fill="none" stroke="#ff0000" stroke-width="1.5"/>
<path d="M479 486.45 C480.12 486.61 481.97 487.21 483.18 488.64 C484.39 490.06 485.52 492.42 486.27 495 C487.03 497.58 487.58 500.76 487.73 504.09 C487.88 507.42 487.58 511.67 487.18 515 C486.79 518.33 486.12 521.36 485.36 524.09 C484.61 526.82 483.23 529.96 482.64 531.36 C482.04 532.77 482.22 532.13 481.79 532.53 C481.37 532.92 480.66 533.73 480.09 533.73 C479.52 533.73 478.94 532.92 478.39 532.53 C477.85 532.13 477.69 532.92 476.82 531.36 C475.95 529.81 474.09 526.21 473.18 523.18 C472.27 520.15 471.76 516.36 471.36 513.18 C470.97 510 470.73 506.97 470.82 504.09 C470.91 501.21 471.36 498.18 471.91 495.91 C472.45 493.64 473.33 491.82 474.09 490.45 C474.85 489.09 475.64 488.39 476.45 487.73 C477.27 487.06 477.88 486.3 479 486.45Z" fill="none" stroke="#ff0000" stroke-width="1.5"/>
<path d="M355.45 471 C357.58 471.21 360.52 472.21 362.73 474.09 C364.94 475.97 367.21 479.09 368.73 482.27 C370.24 485.45 371.15 489.55 371.82 493.18 C372.48 496.82 372.73 499.85 372.73 504.09 C372.73 508.33 372.36 514.32 371.82 518.64 C371.28 522.95 370.02 526.87 369.5 530 C368.98 533.13 369 535.15 368.7 537.4 C368.4 539.65 368.1 541.48 367.7 543.5 C367.3 545.52 366.81 547.48 366.3 549.5 C365.79 551.52 365.27 553.57 364.65 555.6 C364.03 557.63 363.28 559.78 362.6 561.7 C361.93 563.62 361.22 565.53 360.6 567.1 C359.98 568.67 359.47 570.03 358.9 571.1 C358.33 572.17 357.76 573 357.2 573.5 C356.64 574 356.05 574.1 355.55 574.1 C355.05 574.1 354.76 574 354.2 573.5 C353.64 573 352.87 572.17 352.2 571.1 C351.53 570.03 350.82 568.57 350.2 567.1 C349.58 565.63 349.03 563.98 348.5 562.3 C347.97 560.62 347.52 559.02 347 557 C346.48 554.98 345.88 552.45 345.4 550.2 C344.92 547.95 344.54 545.75 344.1 543.5 C343.66 541.25 343.15 538.95 342.75 536.7 C342.35 534.45 342.07 531.8 341.7 530 C341.33 528.2 340.92 529.32 340.55 525.91 C340.17 522.5 339.61 514.39 339.45 509.55 C339.3 504.7 339.33 500.76 339.64 496.82 C339.94 492.88 340.3 489.24 341.27 485.91 C342.24 482.58 344 479 345.45 476.82 C346.91 474.64 348.33 473.79 350 472.82 C351.67 471.85 353.33 470.79 355.45 471Z" fill="none" stroke="#0000ff" stroke-width="1.5"/>
<path d="M354.91 482.27 C356.33 482.48 358.76 483.18 360.36 485 C361.97 486.82 363.55 490 364.55 493.18 C365.55 496.36 366.15 500.45 366.36 504.09 C366.58 507.73 366.28 510.68 365.82 515 C365.36 519.32 364.19 526.93 363.6 530 C363.01 533.07 362.8 532.28 362.3 533.4 C361.8 534.52 361.22 535.58 360.6 536.7 C359.98 537.82 359.22 539.25 358.6 540.1 C357.98 540.95 357.47 541.4 356.9 541.8 C356.33 542.2 355.7 542.5 355.2 542.5 C354.7 542.5 354.35 542.2 353.9 541.8 C353.45 541.4 353.02 540.95 352.5 540.1 C351.98 539.25 351.3 537.82 350.8 536.7 C350.3 535.58 349.88 534.52 349.5 533.4 C349.12 532.28 349.02 532.46 348.5 530 C347.98 527.54 346.87 522.65 346.36 518.64 C345.86 514.62 345.52 509.7 345.45 505.91 C345.39 502.12 345.45 498.94 346 495.91 C346.55 492.88 347.76 489.76 348.73 487.73 C349.7 485.7 350.79 484.64 351.82 483.73 C352.85 482.82 353.48 482.06 354.91 482.27Z" fill="none" stroke="#0000ff" stroke-width="1.5"/>
<path d="M478.64 471.91 C480.61 471.91 483.03 472.52 485 474.09 C486.97 475.67 488.94 478.33 490.45 481.36 C491.97 484.39 493.27 488.48 494.09 492.27 C494.91 496.06 495.27 499.7 495.36 504.09 C495.45 508.48 495.15 513.48 494.64 518.64 C494.12 523.79 493.27 529.24 492.27 535 C491.27 540.76 490 547.73 488.64 553.18 C487.27 558.64 485.11 564.59 484.09 567.73 C483.07 570.86 483.06 571.07 482.52 571.98 C481.97 572.89 481.38 573.18 480.82 573.18 C480.25 573.18 479.63 572.59 479.12 571.98 C478.6 571.38 478.72 571.77 477.73 569.55 C476.74 567.32 474.7 562.88 473.18 558.64 C471.67 554.39 470 549.24 468.64 544.09 C467.27 538.94 465.82 532.88 465 527.73 C464.18 522.58 463.94 517.73 463.73 513.18 C463.52 508.64 463.52 504.39 463.73 500.45 C463.94 496.52 464.18 493.03 465 489.55 C465.82 486.06 467.27 482.12 468.64 479.55 C470 476.97 471.52 475.36 473.18 474.09 C474.85 472.82 476.67 471.91 478.64 471.91Z" fill="none" stroke="#0000ff" stroke-width="1.5"/>
<path d="M478.64 484.09 C480 484.21 481.82 484.76 483.18 486.27 C484.55 487.79 485.91 490.36 486.82 493.18 C487.73 496 488.42 499.55 488.64 503.18 C488.85 506.82 488.55 511.21 488.09 515 C487.64 518.79 486.82 522.73 485.91 525.91 C485 529.09 483.47 532.23 482.64 534.09 C481.8 535.95 481.46 536.38 480.88 537.07 C480.31 537.77 479.75 538.27 479.18 538.27 C478.62 538.27 478.03 537.47 477.48 537.07 C476.94 536.68 476.78 537.47 475.91 535.91 C475.04 534.35 473.27 530.91 472.27 527.73 C471.27 524.55 470.45 520.45 469.91 516.82 C469.36 513.18 469.06 509.39 469 505.91 C468.94 502.42 469.06 498.64 469.55 495.91 C470.03 493.18 471 491.27 471.91 489.55 C472.82 487.82 473.88 486.45 475 485.55 C476.12 484.64 477.27 483.97 478.64 484.09Z" fill="none" stroke="#0000ff" stroke-width="1.5"/>
</g>
<g id="frames" fill="none" stroke="#000" stroke-width="2.4" stroke-linecap="square">
<line x1="126.3" y1="36.8" x2="320.5" y2="36.8"/>
<line x1="126.3" y1="239.2" x2="514.7" y2="239.2"/>
<line x1="126.3" y1="441.3" x2="709.3" y2="441.3"/>
<line x1="126.3" y1="643.6" x2="709.3" y2="643.6"/>
<line x1="126.3" y1="36.8" x2="126.3" y2="643.6"/>
<line x1="320.5" y1="36.8" x2="320.5" y2="643.6"/>
<line x1="514.7" y1="239.2" x2="514.7" y2="643.6"/>
<line x1="709.3" y1="441.3" x2="709.3" y2="643.6"/>
</g>
<g id="ticklabels">
<text x="126.61" y="672.8" font-size="26.0" textLength="19.57" lengthAdjust="spacingAndGlyphs">−</text>
<text x="146.95" y="672.8" font-size="26.0" textLength="26.7" lengthAdjust="spacingAndGlyphs">16</text>
<text x="235.22" y="672.8" font-size="26.0" textLength="13.35" lengthAdjust="spacingAndGlyphs">0</text>
<text x="320.21" y="672.8" font-size="26.0" textLength="19.57" lengthAdjust="spacingAndGlyphs">−</text>
<text x="340.55" y="672.8" font-size="26.0" textLength="26.7" lengthAdjust="spacingAndGlyphs">12</text>
<text x="410.93" y="672.8" font-size="26.0" textLength="13.35" lengthAdjust="spacingAndGlyphs">0</text>
<text x="478.35" y="672.8" font-size="26.0" textLength="26.7" lengthAdjust="spacingAndGlyphs">12</text>
<text x="557.49" y="672.8" font-size="26.0" textLength="19.57" lengthAdjust="spacingAndGlyphs">−</text>
<text x="577.82" y="672.8" font-size="26.0" textLength="13.35" lengthAdjust="spacingAndGlyphs">5</text>
<text x="643.33" y="672.8" font-size="26.0" textLength="13.35" lengthAdjust="spacingAndGlyphs">0</text>
<text x="88.9" y="271.8" font-size="26.0" textLength="26.7" lengthAdjust="spacingAndGlyphs">12</text>
<text x="102.25" y="348.9" font-size="26.0" textLength="13.35" lengthAdjust="spacingAndGlyphs">0</text>
<text x="68.56" y="426.1" font-size="26.0" textLength="19.57" lengthAdjust="spacingAndGlyphs">−</text>
<text x="88.9" y="426.1" font-size="26.0" textLength="26.7" lengthAdjust="spacingAndGlyphs">12</text>
<text x="81.5" y="472.1" font-size="26.0" textLength="34.1" lengthAdjust="spacingAndGlyphs">2.5</text>
<text x="81.5" y="511.65" font-size="26.0" textLength="34.1" lengthAdjust="spacingAndGlyphs">0.0</text>
<text x="61.16" y="551.2" font-size="26.0" textLength="19.57" lengthAdjust="spacingAndGlyphs">−</text>
<text x="81.5" y="551.2" font-size="26.0" textLength="34.1" lengthAdjust="spacingAndGlyphs">2.5</text>
<text x="61.16" y="590.75" font-size="26.0" textLength="19.57" lengthAdjust="spacingAndGlyphs">−</text>
<text x="81.5" y="590.75" font-size="26.0" textLength="34.1" lengthAdjust="spacingAndGlyphs">5.0</text>
<text x="61.16" y="630.3" font-size="26.0" textLength="19.57" lengthAdjust="spacingAndGlyphs">−</text>
<text x="81.5" y="630.3" font-size="26.0" textLength="34.1" lengthAdjust="spacingAndGlyphs">7.5</text>
</g>
<g id="axislabels">
<g transform="translate(210.65 706.5)">
<text x="0" y="0" font-size="25" font-style="italic" transform="scale(1.12 1)">θ</text>
<text x="0" y="0" font-size="19" transform="translate(13.6 8.2) scale(1.1 1)">1</text>
<text x="16.04" y="0.3" font-size="14.5">ˆ</text>
</g>
<g transform="translate(404.4 706.5)">
<text x="0" y="0" font-size="25" font-style="italic" transform="scale(1.12 1)">θ</text>
<text x="0" y="0" font-size="19" transform="translate(14.6 8.2) scale(1.1 1)">2</text>
<text x="17.54" y="1.1" font-size="14.5">ˆ</text>
</g>
<g transform="translate(599.3 706.5)">
<text x="0" y="0" font-size="25" font-style="italic" transform="scale(1.12 1)">θ</text>
<text x="0" y="0" font-size="19" transform="translate(14.2 8.2) scale(1.1 1)">3</text>
<text x="17.14" y="1.1" font-size="14.5">ˆ</text>
</g>
<g transform="translate(42.6 353) rotate(-90)">
<text x="0" y="0" font-size="25" font-style="italic" transform="scale(1.12 1)">θ</text>
<text x="0" y="0" font-size="19" transform="translate(13.6 8.2) scale(1.1 1)">2</text>
<text x="16.54" y="1.1" font-size="14.5">ˆ</text>
</g>
<g transform="translate(35.1 555.6) rotate(-90)">
<text x="0" y="0" font-size="25" font-style="italic" transform="scale(1.12 1)">θ</text>
<text x="0" y="0" font-size="19" transform="translate(13.2 8.2) scale(1.1 1)">3</text>
<text x="16.14" y="1.1" font-size="14.5">ˆ</text>
</g>
</g>
<g id="legend">
<rect x="572.6" y="12.5" width="160.95" height="76.5" rx="4.5" ry="4.5" fill="#fff" stroke="#d6d6d6" stroke-width="3"/>
<line x1="581.8" y1="31.25" x2="633" y2="31.25" stroke="#ff0000" stroke-width="1.5"/>
<line x1="581.8" y1="66.25" x2="633" y2="66.25" stroke="#0000ff" stroke-width="1.5"/>
<text x="652.2" y="39.9" font-size="26.0" textLength="71.2" lengthAdjust="spacingAndGlyphs">Run 1</text>
<text x="652.2" y="74.8" font-size="26.0" textLength="71.2" lengthAdjust="spacingAndGlyphs">Run 2</text>
</g>
</svg></body></html>
